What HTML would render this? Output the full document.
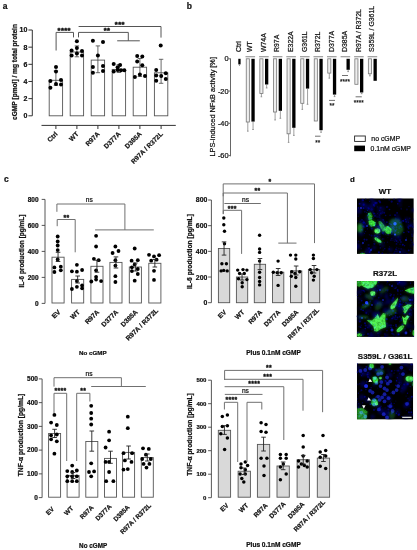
<!DOCTYPE html>
<html><head><meta charset="utf-8"><style>
html,body{margin:0;padding:0;background:#fff;width:417px;height:550px;overflow:hidden}
svg{display:block;filter:blur(0.3px)}
</style></head><body>
<svg width="417" height="550" viewBox="0 0 417 550">
<defs>
<filter id="bl1" x="-10%" y="-10%" width="120%" height="120%"><feGaussianBlur stdDeviation="0.45"/></filter>
<filter id="bl2" x="-20%" y="-20%" width="140%" height="140%"><feGaussianBlur stdDeviation="0.7"/></filter>
<filter id="bl3" x="-20%" y="-20%" width="140%" height="140%"><feGaussianBlur stdDeviation="1.2"/></filter>
<filter id="bl4" x="-20%" y="-20%" width="140%" height="140%"><feGaussianBlur stdDeviation="1.8"/></filter>
<filter id="gtex" x="-10%" y="-10%" width="120%" height="120%">
<feGaussianBlur in="SourceGraphic" stdDeviation="0.7" result="b"/>
<feTurbulence type="fractalNoise" baseFrequency="0.45" numOctaves="2" seed="5" result="n"/>
<feColorMatrix in="n" type="matrix" values="0 0 0 0 0  0 0 0 0 0  0 0 0 0 0  1.3 0 0 0 0.2" result="m"/>
<feComposite in="b" in2="m" operator="in"/>
</filter>
</defs>
<rect width="417" height="550" fill="#fff"/>
<text x="2.70" y="8.60" font-family="Liberation Sans, sans-serif" font-weight="bold" font-size="8.5" text-anchor="start" fill="#111" stroke="#111" stroke-width="0.22" >a</text>
<line x1="32.30" y1="30.00" x2="32.30" y2="115.80" stroke="#333" stroke-width="1"/>
<line x1="28.40" y1="115.80" x2="32.30" y2="115.80" stroke="#333" stroke-width="1"/>
<text x="27.30" y="118.20" font-family="Liberation Sans, sans-serif" font-weight="bold" font-size="7" text-anchor="end" fill="#111" stroke="#111" stroke-width="0.22" >0</text>
<line x1="28.40" y1="98.64" x2="32.30" y2="98.64" stroke="#333" stroke-width="1"/>
<text x="27.30" y="101.04" font-family="Liberation Sans, sans-serif" font-weight="bold" font-size="7" text-anchor="end" fill="#111" stroke="#111" stroke-width="0.22" >2</text>
<line x1="28.40" y1="81.48" x2="32.30" y2="81.48" stroke="#333" stroke-width="1"/>
<text x="27.30" y="83.88" font-family="Liberation Sans, sans-serif" font-weight="bold" font-size="7" text-anchor="end" fill="#111" stroke="#111" stroke-width="0.22" >4</text>
<line x1="28.40" y1="64.32" x2="32.30" y2="64.32" stroke="#333" stroke-width="1"/>
<text x="27.30" y="66.72" font-family="Liberation Sans, sans-serif" font-weight="bold" font-size="7" text-anchor="end" fill="#111" stroke="#111" stroke-width="0.22" >6</text>
<line x1="28.40" y1="47.16" x2="32.30" y2="47.16" stroke="#333" stroke-width="1"/>
<text x="27.30" y="49.56" font-family="Liberation Sans, sans-serif" font-weight="bold" font-size="7" text-anchor="end" fill="#111" stroke="#111" stroke-width="0.22" >8</text>
<line x1="28.40" y1="30.00" x2="32.30" y2="30.00" stroke="#333" stroke-width="1"/>
<text x="27.30" y="32.40" font-family="Liberation Sans, sans-serif" font-weight="bold" font-size="7" text-anchor="end" fill="#111" stroke="#111" stroke-width="0.22" >10</text>
<text transform="translate(17.10,72.00) rotate(-90)" font-family="Liberation Sans, sans-serif" font-weight="bold" font-size="6.6" text-anchor="middle" fill="#111" stroke="#111" stroke-width="0.22" >cGMP [pmol] / mg total protein</text>
<rect x="49.20" y="80.30" width="13.40" height="35.50" fill="#fff" stroke="#555" stroke-width="0.9"/>
<line x1="55.90" y1="71.00" x2="55.90" y2="85.30" stroke="#444" stroke-width="0.8"/>
<line x1="53.70" y1="71.00" x2="58.10" y2="71.00" stroke="#444" stroke-width="0.8"/>
<line x1="53.70" y1="85.30" x2="58.10" y2="85.30" stroke="#444" stroke-width="0.8"/>
<circle cx="56.00" cy="66.90" r="2.0" fill="#000"/>
<circle cx="56.00" cy="71.60" r="2.0" fill="#000"/>
<circle cx="50.40" cy="81.10" r="2.0" fill="#000"/>
<circle cx="61.00" cy="80.00" r="2.0" fill="#000"/>
<circle cx="56.00" cy="84.00" r="2.0" fill="#000"/>
<circle cx="61.00" cy="84.50" r="2.0" fill="#000"/>
<circle cx="50.40" cy="87.80" r="2.0" fill="#000"/>
<rect x="70.20" y="52.00" width="13.40" height="63.80" fill="#fff" stroke="#555" stroke-width="0.9"/>
<line x1="76.90" y1="45.90" x2="76.90" y2="56.80" stroke="#444" stroke-width="0.8"/>
<line x1="74.70" y1="45.90" x2="79.10" y2="45.90" stroke="#444" stroke-width="0.8"/>
<line x1="74.70" y1="56.80" x2="79.10" y2="56.80" stroke="#444" stroke-width="0.8"/>
<circle cx="76.90" cy="41.30" r="2.0" fill="#000"/>
<circle cx="71.60" cy="50.40" r="2.0" fill="#000"/>
<circle cx="76.90" cy="48.10" r="2.0" fill="#000"/>
<circle cx="82.00" cy="50.90" r="2.0" fill="#000"/>
<circle cx="71.60" cy="55.40" r="2.0" fill="#000"/>
<circle cx="76.90" cy="53.40" r="2.0" fill="#000"/>
<circle cx="82.00" cy="55.40" r="2.0" fill="#000"/>
<rect x="91.20" y="60.10" width="13.40" height="55.70" fill="#fff" stroke="#555" stroke-width="0.9"/>
<line x1="97.90" y1="45.90" x2="97.90" y2="72.70" stroke="#444" stroke-width="0.8"/>
<line x1="95.70" y1="45.90" x2="100.10" y2="45.90" stroke="#444" stroke-width="0.8"/>
<line x1="95.70" y1="72.70" x2="100.10" y2="72.70" stroke="#444" stroke-width="0.8"/>
<circle cx="92.90" cy="40.80" r="2.0" fill="#000"/>
<circle cx="103.00" cy="42.00" r="2.0" fill="#000"/>
<circle cx="97.90" cy="55.40" r="2.0" fill="#000"/>
<circle cx="92.90" cy="66.90" r="2.0" fill="#000"/>
<circle cx="103.00" cy="66.00" r="2.0" fill="#000"/>
<circle cx="92.90" cy="72.70" r="2.0" fill="#000"/>
<circle cx="103.00" cy="71.00" r="2.0" fill="#000"/>
<rect x="112.20" y="69.40" width="13.40" height="46.40" fill="#fff" stroke="#555" stroke-width="0.9"/>
<line x1="118.90" y1="64.50" x2="118.90" y2="72.50" stroke="#444" stroke-width="0.8"/>
<line x1="116.70" y1="64.50" x2="121.10" y2="64.50" stroke="#444" stroke-width="0.8"/>
<line x1="116.70" y1="72.50" x2="121.10" y2="72.50" stroke="#444" stroke-width="0.8"/>
<circle cx="113.70" cy="63.90" r="2.0" fill="#000"/>
<circle cx="120.10" cy="64.90" r="2.0" fill="#000"/>
<circle cx="117.60" cy="67.20" r="2.0" fill="#000"/>
<circle cx="113.70" cy="71.60" r="2.0" fill="#000"/>
<circle cx="117.60" cy="69.90" r="2.0" fill="#000"/>
<circle cx="121.00" cy="70.30" r="2.0" fill="#000"/>
<circle cx="124.30" cy="70.30" r="2.0" fill="#000"/>
<rect x="133.20" y="67.20" width="13.40" height="48.60" fill="#fff" stroke="#555" stroke-width="0.9"/>
<line x1="139.90" y1="58.50" x2="139.90" y2="76.50" stroke="#444" stroke-width="0.8"/>
<line x1="137.70" y1="58.50" x2="142.10" y2="58.50" stroke="#444" stroke-width="0.8"/>
<line x1="137.70" y1="76.50" x2="142.10" y2="76.50" stroke="#444" stroke-width="0.8"/>
<circle cx="137.20" cy="56.00" r="2.0" fill="#000"/>
<circle cx="142.30" cy="56.50" r="2.0" fill="#000"/>
<circle cx="137.20" cy="61.50" r="2.0" fill="#000"/>
<circle cx="142.30" cy="65.20" r="2.0" fill="#000"/>
<circle cx="139.90" cy="74.40" r="2.0" fill="#000"/>
<circle cx="134.90" cy="77.00" r="2.0" fill="#000"/>
<circle cx="145.00" cy="76.10" r="2.0" fill="#000"/>
<rect x="154.40" y="72.80" width="13.40" height="43.00" fill="#fff" stroke="#555" stroke-width="0.9"/>
<line x1="161.10" y1="59.30" x2="161.10" y2="83.30" stroke="#444" stroke-width="0.8"/>
<line x1="158.90" y1="59.30" x2="163.30" y2="59.30" stroke="#444" stroke-width="0.8"/>
<line x1="158.90" y1="83.30" x2="163.30" y2="83.30" stroke="#444" stroke-width="0.8"/>
<circle cx="160.70" cy="45.40" r="2.0" fill="#000"/>
<circle cx="156.20" cy="69.90" r="2.0" fill="#000"/>
<circle cx="156.20" cy="75.60" r="2.0" fill="#000"/>
<circle cx="161.20" cy="76.10" r="2.0" fill="#000"/>
<circle cx="165.80" cy="73.30" r="2.0" fill="#000"/>
<circle cx="165.80" cy="79.00" r="2.0" fill="#000"/>
<circle cx="156.20" cy="80.70" r="2.0" fill="#000"/>
<line x1="41.50" y1="125.40" x2="175.80" y2="125.40" stroke="#333" stroke-width="1"/>
<line x1="55.90" y1="125.40" x2="55.90" y2="129.00" stroke="#333" stroke-width="1"/>
<text transform="translate(58.10,134.50) rotate(-45)" font-family="Liberation Sans, sans-serif" font-weight="bold" font-size="6.6" text-anchor="end" fill="#111" stroke="#111" stroke-width="0.22" >Ctrl</text>
<line x1="76.90" y1="125.40" x2="76.90" y2="129.00" stroke="#333" stroke-width="1"/>
<text transform="translate(79.10,134.50) rotate(-45)" font-family="Liberation Sans, sans-serif" font-weight="bold" font-size="6.6" text-anchor="end" fill="#111" stroke="#111" stroke-width="0.22" >WT</text>
<line x1="97.90" y1="125.40" x2="97.90" y2="129.00" stroke="#333" stroke-width="1"/>
<text transform="translate(100.10,134.50) rotate(-45)" font-family="Liberation Sans, sans-serif" font-weight="bold" font-size="6.6" text-anchor="end" fill="#111" stroke="#111" stroke-width="0.22" >R97A</text>
<line x1="118.90" y1="125.40" x2="118.90" y2="129.00" stroke="#333" stroke-width="1"/>
<text transform="translate(121.10,134.50) rotate(-45)" font-family="Liberation Sans, sans-serif" font-weight="bold" font-size="6.6" text-anchor="end" fill="#111" stroke="#111" stroke-width="0.22" >D377A</text>
<line x1="139.90" y1="125.40" x2="139.90" y2="129.00" stroke="#333" stroke-width="1"/>
<text transform="translate(142.10,134.50) rotate(-45)" font-family="Liberation Sans, sans-serif" font-weight="bold" font-size="6.6" text-anchor="end" fill="#111" stroke="#111" stroke-width="0.22" >D385A</text>
<line x1="161.10" y1="125.40" x2="161.10" y2="129.00" stroke="#333" stroke-width="1"/>
<text transform="translate(163.30,134.50) rotate(-45)" font-family="Liberation Sans, sans-serif" font-weight="bold" font-size="6.6" text-anchor="end" fill="#111" stroke="#111" stroke-width="0.22" >R97A / R372L</text>
<polyline points="56.10,50.50 56.10,32.40 73.50,32.40 73.50,37.40" fill="none" stroke="#555" stroke-width="1"/>
<text x="64.20" y="32.60" font-family="Liberation Sans, sans-serif" font-weight="bold" font-size="7.6" text-anchor="middle" fill="#111" stroke="#111" stroke-width="0.45"  letter-spacing="0.35">****</text>
<polyline points="78.60,26.50 161.00,26.50 161.00,37.60" fill="none" stroke="#555" stroke-width="1"/>
<text x="119.80" y="27.00" font-family="Liberation Sans, sans-serif" font-weight="bold" font-size="7.6" text-anchor="middle" fill="#111" stroke="#111" stroke-width="0.45"  letter-spacing="0.35">***</text>
<polyline points="78.50,37.40 78.50,32.40 128.30,32.40 128.30,40.80" fill="none" stroke="#555" stroke-width="1"/>
<line x1="117.20" y1="40.80" x2="139.80" y2="40.80" stroke="#555" stroke-width="1"/>
<text x="107.00" y="33.20" font-family="Liberation Sans, sans-serif" font-weight="bold" font-size="7.6" text-anchor="middle" fill="#111" stroke="#111" stroke-width="0.45"  letter-spacing="0.35">**</text>
<text x="186.80" y="8.80" font-family="Liberation Sans, sans-serif" font-weight="bold" font-size="8.5" text-anchor="start" fill="#111" stroke="#111" stroke-width="0.22" >b</text>
<line x1="230.50" y1="58.50" x2="230.50" y2="156.30" stroke="#666" stroke-width="1.0"/>
<line x1="228.70" y1="58.80" x2="230.50" y2="58.80" stroke="#666" stroke-width="1.0"/>
<text x="228.60" y="61.40" font-family="Liberation Sans, sans-serif" font-size="7.4" text-anchor="end" fill="#111" stroke="#111" stroke-width="0.22" >0</text>
<line x1="228.70" y1="91.06" x2="230.50" y2="91.06" stroke="#666" stroke-width="1.0"/>
<text x="228.60" y="93.66" font-family="Liberation Sans, sans-serif" font-size="7.4" text-anchor="end" fill="#111" stroke="#111" stroke-width="0.22" >-20</text>
<line x1="228.70" y1="123.32" x2="230.50" y2="123.32" stroke="#666" stroke-width="1.0"/>
<text x="228.60" y="125.92" font-family="Liberation Sans, sans-serif" font-size="7.4" text-anchor="end" fill="#111" stroke="#111" stroke-width="0.22" >-40</text>
<line x1="228.70" y1="155.58" x2="230.50" y2="155.58" stroke="#666" stroke-width="1.0"/>
<text x="228.60" y="158.18" font-family="Liberation Sans, sans-serif" font-size="7.4" text-anchor="end" fill="#111" stroke="#111" stroke-width="0.22" >-60</text>
<text transform="translate(215.20,106.80) rotate(-90)" font-family="Liberation Sans, sans-serif" font-size="7.0" text-anchor="middle" fill="#111" stroke="#111" stroke-width="0.22" textLength="99.5" lengthAdjust="spacingAndGlyphs">LPS-induced NF&#954;B activity [%]</text>
<text transform="translate(240.60,52.00) rotate(-90)" font-family="Liberation Sans, sans-serif" font-size="6.9" text-anchor="start" fill="#111" stroke="#111" stroke-width="0.22" >Ctrl</text>
<rect x="238.3" y="58.8" width="2.3" height="5.6" fill="#000"/>
<line x1="239.45" y1="64.40" x2="239.45" y2="66.00" stroke="#666" stroke-width="0.7"/>
<text transform="translate(252.00,52.00) rotate(-90)" font-family="Liberation Sans, sans-serif" font-size="6.9" text-anchor="start" fill="#111" stroke="#111" stroke-width="0.22" >WT</text>
<line x1="245.50" y1="56.70" x2="255.10" y2="56.70" stroke="#999" stroke-width="1.2"/>
<rect x="246.25" y="58.80" width="3.1" height="63.20" fill="#eee" stroke="#777" stroke-width="0.8"/>
<line x1="247.80" y1="122.00" x2="247.80" y2="131.20" stroke="#777" stroke-width="0.7"/>
<line x1="247.00" y1="131.20" x2="248.60" y2="131.20" stroke="#777" stroke-width="0.7"/>
<rect x="251.40" y="58.80" width="3.3" height="62.80" fill="#000"/>
<line x1="253.05" y1="121.60" x2="253.05" y2="129.50" stroke="#777" stroke-width="0.7"/>
<line x1="252.20" y1="129.50" x2="253.90" y2="129.50" stroke="#777" stroke-width="0.7"/>
<text transform="translate(265.60,52.00) rotate(-90)" font-family="Liberation Sans, sans-serif" font-size="6.9" text-anchor="start" fill="#111" stroke="#111" stroke-width="0.22" >W74A</text>
<line x1="259.10" y1="56.70" x2="268.70" y2="56.70" stroke="#999" stroke-width="1.2"/>
<rect x="259.85" y="58.80" width="3.1" height="34.70" fill="#eee" stroke="#777" stroke-width="0.8"/>
<line x1="261.40" y1="93.50" x2="261.40" y2="96.80" stroke="#777" stroke-width="0.7"/>
<line x1="260.60" y1="96.80" x2="262.20" y2="96.80" stroke="#777" stroke-width="0.7"/>
<rect x="265.00" y="58.80" width="3.3" height="25.70" fill="#000"/>
<line x1="266.65" y1="84.50" x2="266.65" y2="88.00" stroke="#777" stroke-width="0.7"/>
<line x1="265.80" y1="88.00" x2="267.50" y2="88.00" stroke="#777" stroke-width="0.7"/>
<text transform="translate(279.30,52.00) rotate(-90)" font-family="Liberation Sans, sans-serif" font-size="6.9" text-anchor="start" fill="#111" stroke="#111" stroke-width="0.22" >R97A</text>
<line x1="272.80" y1="56.70" x2="282.40" y2="56.70" stroke="#999" stroke-width="1.2"/>
<rect x="273.55" y="58.80" width="3.1" height="53.20" fill="#eee" stroke="#777" stroke-width="0.8"/>
<line x1="275.10" y1="112.00" x2="275.10" y2="120.00" stroke="#777" stroke-width="0.7"/>
<line x1="274.30" y1="120.00" x2="275.90" y2="120.00" stroke="#777" stroke-width="0.7"/>
<rect x="278.70" y="58.80" width="3.3" height="52.00" fill="#000"/>
<line x1="280.35" y1="110.80" x2="280.35" y2="118.30" stroke="#777" stroke-width="0.7"/>
<line x1="279.50" y1="118.30" x2="281.20" y2="118.30" stroke="#777" stroke-width="0.7"/>
<text transform="translate(292.80,52.00) rotate(-90)" font-family="Liberation Sans, sans-serif" font-size="6.9" text-anchor="start" fill="#111" stroke="#111" stroke-width="0.22" >E322A</text>
<line x1="286.30" y1="56.70" x2="295.90" y2="56.70" stroke="#999" stroke-width="1.2"/>
<rect x="287.05" y="58.80" width="3.1" height="75.00" fill="#eee" stroke="#777" stroke-width="0.8"/>
<line x1="288.60" y1="133.80" x2="288.60" y2="142.40" stroke="#777" stroke-width="0.7"/>
<line x1="287.80" y1="142.40" x2="289.40" y2="142.40" stroke="#777" stroke-width="0.7"/>
<rect x="292.20" y="58.80" width="3.3" height="69.00" fill="#000"/>
<line x1="293.85" y1="127.80" x2="293.85" y2="135.40" stroke="#777" stroke-width="0.7"/>
<line x1="293.00" y1="135.40" x2="294.70" y2="135.40" stroke="#777" stroke-width="0.7"/>
<text transform="translate(306.50,52.00) rotate(-90)" font-family="Liberation Sans, sans-serif" font-size="6.9" text-anchor="start" fill="#111" stroke="#111" stroke-width="0.22" >G361L</text>
<line x1="300.00" y1="56.70" x2="309.60" y2="56.70" stroke="#999" stroke-width="1.2"/>
<rect x="300.75" y="58.80" width="3.1" height="44.50" fill="#eee" stroke="#777" stroke-width="0.8"/>
<line x1="302.30" y1="103.30" x2="302.30" y2="109.40" stroke="#777" stroke-width="0.7"/>
<line x1="301.50" y1="109.40" x2="303.10" y2="109.40" stroke="#777" stroke-width="0.7"/>
<rect x="305.90" y="58.80" width="3.3" height="29.80" fill="#000"/>
<line x1="307.55" y1="88.60" x2="307.55" y2="104.30" stroke="#777" stroke-width="0.7"/>
<line x1="306.70" y1="104.30" x2="308.40" y2="104.30" stroke="#777" stroke-width="0.7"/>
<text transform="translate(320.00,52.00) rotate(-90)" font-family="Liberation Sans, sans-serif" font-size="6.9" text-anchor="start" fill="#111" stroke="#111" stroke-width="0.22" >R372L</text>
<line x1="313.50" y1="56.70" x2="323.10" y2="56.70" stroke="#999" stroke-width="1.2"/>
<rect x="314.25" y="58.80" width="3.1" height="62.20" fill="#eee" stroke="#777" stroke-width="0.8"/>
<rect x="319.40" y="58.80" width="3.3" height="71.40" fill="#000"/>
<line x1="321.05" y1="130.20" x2="321.05" y2="132.30" stroke="#777" stroke-width="0.7"/>
<line x1="320.20" y1="132.30" x2="321.90" y2="132.30" stroke="#777" stroke-width="0.7"/>
<text transform="translate(333.50,52.00) rotate(-90)" font-family="Liberation Sans, sans-serif" font-size="6.9" text-anchor="start" fill="#111" stroke="#111" stroke-width="0.22" >D377A</text>
<line x1="327.00" y1="56.70" x2="336.60" y2="56.70" stroke="#999" stroke-width="1.2"/>
<rect x="327.75" y="58.80" width="3.1" height="14.30" fill="#eee" stroke="#777" stroke-width="0.8"/>
<line x1="329.30" y1="73.10" x2="329.30" y2="78.20" stroke="#777" stroke-width="0.7"/>
<line x1="328.50" y1="78.20" x2="330.10" y2="78.20" stroke="#777" stroke-width="0.7"/>
<rect x="332.90" y="58.80" width="3.3" height="35.80" fill="#000"/>
<line x1="334.55" y1="94.60" x2="334.55" y2="96.60" stroke="#777" stroke-width="0.7"/>
<line x1="333.70" y1="96.60" x2="335.40" y2="96.60" stroke="#777" stroke-width="0.7"/>
<text transform="translate(347.10,52.00) rotate(-90)" font-family="Liberation Sans, sans-serif" font-size="6.9" text-anchor="start" fill="#111" stroke="#111" stroke-width="0.22" >D385A</text>
<line x1="340.60" y1="56.70" x2="350.20" y2="56.70" stroke="#999" stroke-width="1.2"/>
<rect x="346.50" y="58.80" width="3.3" height="11.00" fill="#000"/>
<line x1="348.15" y1="69.80" x2="348.15" y2="71.60" stroke="#777" stroke-width="0.7"/>
<line x1="347.30" y1="71.60" x2="349.00" y2="71.60" stroke="#777" stroke-width="0.7"/>
<text transform="translate(360.60,52.00) rotate(-90)" font-family="Liberation Sans, sans-serif" font-size="6.9" text-anchor="start" fill="#111" stroke="#111" stroke-width="0.22" >R97A / R372L</text>
<line x1="354.10" y1="56.70" x2="363.70" y2="56.70" stroke="#999" stroke-width="1.2"/>
<rect x="354.85" y="58.80" width="3.1" height="25.50" fill="#eee" stroke="#777" stroke-width="0.8"/>
<rect x="360.00" y="58.80" width="3.3" height="33.70" fill="#000"/>
<line x1="361.65" y1="92.50" x2="361.65" y2="93.70" stroke="#777" stroke-width="0.7"/>
<line x1="360.80" y1="93.70" x2="362.50" y2="93.70" stroke="#777" stroke-width="0.7"/>
<text transform="translate(374.10,52.00) rotate(-90)" font-family="Liberation Sans, sans-serif" font-size="6.9" text-anchor="start" fill="#111" stroke="#111" stroke-width="0.22" >S359L / G361L</text>
<line x1="367.60" y1="56.70" x2="377.20" y2="56.70" stroke="#999" stroke-width="1.2"/>
<rect x="368.35" y="58.80" width="3.1" height="15.00" fill="#eee" stroke="#777" stroke-width="0.8"/>
<line x1="369.90" y1="73.80" x2="369.90" y2="75.90" stroke="#777" stroke-width="0.7"/>
<line x1="369.10" y1="75.90" x2="370.70" y2="75.90" stroke="#777" stroke-width="0.7"/>
<rect x="373.50" y="58.80" width="3.3" height="22.00" fill="#000"/>
<line x1="315.00" y1="136.20" x2="320.50" y2="136.20" stroke="#333" stroke-width="0.7"/>
<text x="317.75" y="145.00" font-family="Liberation Sans, sans-serif" font-size="6.3" text-anchor="middle" fill="#111" stroke="#111" stroke-width="0.2" >**</text>
<line x1="329.00" y1="100.40" x2="335.00" y2="100.40" stroke="#333" stroke-width="0.7"/>
<text x="332.00" y="108.40" font-family="Liberation Sans, sans-serif" font-size="6.3" text-anchor="middle" fill="#111" stroke="#111" stroke-width="0.2" >**</text>
<line x1="342.00" y1="75.50" x2="348.00" y2="75.50" stroke="#333" stroke-width="0.7"/>
<text x="345.00" y="83.60" font-family="Liberation Sans, sans-serif" font-size="6.3" text-anchor="middle" fill="#111" stroke="#111" stroke-width="0.2" >****</text>
<line x1="355.60" y1="96.80" x2="361.80" y2="96.80" stroke="#333" stroke-width="0.7"/>
<text x="358.70" y="105.00" font-family="Liberation Sans, sans-serif" font-size="6.3" text-anchor="middle" fill="#111" stroke="#111" stroke-width="0.2" >****</text>
<rect x="354.6" y="136.0" width="10.7" height="5.4" fill="#fff" stroke="#222" stroke-width="0.9"/>
<rect x="354.2" y="145.6" width="10.8" height="5.6" fill="#000"/>
<text x="371.30" y="141.30" font-family="Liberation Sans, sans-serif" font-size="6.9" text-anchor="start" fill="#111" stroke="#111" stroke-width="0.22" >no cGMP</text>
<text x="370.60" y="151.00" font-family="Liberation Sans, sans-serif" font-size="6.9" text-anchor="start" fill="#111" stroke="#111" stroke-width="0.22" >0.1nM cGMP</text>
<text x="4.00" y="181.80" font-family="Liberation Sans, sans-serif" font-weight="bold" font-size="8.5" text-anchor="start" fill="#111" stroke="#111" stroke-width="0.22" >c</text>
<line x1="45.00" y1="199.40" x2="45.00" y2="303.40" stroke="#444" stroke-width="0.9"/>
<line x1="41.70" y1="303.40" x2="45.00" y2="303.40" stroke="#444" stroke-width="0.9"/>
<text x="38.60" y="305.74" font-family="Liberation Sans, sans-serif" font-weight="bold" font-size="6.5" text-anchor="end" fill="#111" stroke="#111" stroke-width="0.22" >0</text>
<line x1="41.70" y1="277.40" x2="45.00" y2="277.40" stroke="#444" stroke-width="0.9"/>
<text x="38.60" y="279.74" font-family="Liberation Sans, sans-serif" font-weight="bold" font-size="6.5" text-anchor="end" fill="#111" stroke="#111" stroke-width="0.22" >200</text>
<line x1="41.70" y1="251.40" x2="45.00" y2="251.40" stroke="#444" stroke-width="0.9"/>
<text x="38.60" y="253.74" font-family="Liberation Sans, sans-serif" font-weight="bold" font-size="6.5" text-anchor="end" fill="#111" stroke="#111" stroke-width="0.22" >400</text>
<line x1="41.70" y1="225.40" x2="45.00" y2="225.40" stroke="#444" stroke-width="0.9"/>
<text x="38.60" y="227.74" font-family="Liberation Sans, sans-serif" font-weight="bold" font-size="6.5" text-anchor="end" fill="#111" stroke="#111" stroke-width="0.22" >600</text>
<line x1="41.70" y1="199.40" x2="45.00" y2="199.40" stroke="#444" stroke-width="0.9"/>
<text x="38.60" y="201.74" font-family="Liberation Sans, sans-serif" font-weight="bold" font-size="6.5" text-anchor="end" fill="#111" stroke="#111" stroke-width="0.22" >800</text>
<text transform="translate(24.10,251.00) rotate(-90)" font-family="Liberation Sans, sans-serif" font-weight="bold" font-size="6.5" text-anchor="middle" fill="#111" stroke="#111" stroke-width="0.22" >IL-6 production [pg/mL]</text>
<rect x="52.00" y="257.20" width="12.10" height="45.80" fill="#fff" stroke="#555" stroke-width="0.9"/>
<circle cx="57.70" cy="236.50" r="1.9" fill="#000"/>
<circle cx="57.70" cy="241.50" r="1.9" fill="#000"/>
<circle cx="57.70" cy="245.50" r="1.9" fill="#000"/>
<circle cx="57.70" cy="250.10" r="1.9" fill="#000"/>
<circle cx="57.70" cy="259.50" r="1.9" fill="#000"/>
<circle cx="54.40" cy="267.40" r="1.9" fill="#000"/>
<circle cx="60.80" cy="266.70" r="1.9" fill="#000"/>
<circle cx="60.80" cy="270.30" r="1.9" fill="#000"/>
<circle cx="54.40" cy="272.00" r="1.9" fill="#000"/>
<line x1="58.05" y1="252.30" x2="58.05" y2="261.50" stroke="#222" stroke-width="0.9"/>
<line x1="55.75" y1="252.30" x2="60.35" y2="252.30" stroke="#222" stroke-width="0.9"/>
<line x1="55.75" y1="261.50" x2="60.35" y2="261.50" stroke="#222" stroke-width="0.9"/>
<text transform="translate(60.85,312.50) rotate(-45)" font-family="Liberation Sans, sans-serif" font-weight="bold" font-size="6.7" text-anchor="end" fill="#111" stroke="#111" stroke-width="0.22" >EV</text>
<rect x="71.60" y="279.40" width="12.10" height="23.60" fill="#fff" stroke="#555" stroke-width="0.9"/>
<circle cx="76.90" cy="264.80" r="1.9" fill="#000"/>
<circle cx="71.90" cy="271.30" r="1.9" fill="#000"/>
<circle cx="76.90" cy="271.70" r="1.9" fill="#000"/>
<circle cx="82.10" cy="270.00" r="1.9" fill="#000"/>
<circle cx="76.90" cy="281.10" r="1.9" fill="#000"/>
<circle cx="76.90" cy="286.80" r="1.9" fill="#000"/>
<circle cx="82.10" cy="285.40" r="1.9" fill="#000"/>
<circle cx="82.10" cy="288.30" r="1.9" fill="#000"/>
<circle cx="71.90" cy="289.00" r="1.9" fill="#000"/>
<line x1="77.65" y1="276.00" x2="77.65" y2="283.00" stroke="#222" stroke-width="0.9"/>
<line x1="75.35" y1="276.00" x2="79.95" y2="276.00" stroke="#222" stroke-width="0.9"/>
<line x1="75.35" y1="283.00" x2="79.95" y2="283.00" stroke="#222" stroke-width="0.9"/>
<text transform="translate(80.45,312.50) rotate(-45)" font-family="Liberation Sans, sans-serif" font-weight="bold" font-size="6.7" text-anchor="end" fill="#111" stroke="#111" stroke-width="0.22" >WT</text>
<rect x="90.90" y="266.30" width="12.10" height="36.70" fill="#fff" stroke="#555" stroke-width="0.9"/>
<circle cx="96.10" cy="235.80" r="1.9" fill="#000"/>
<circle cx="96.10" cy="246.50" r="1.9" fill="#000"/>
<circle cx="93.90" cy="258.80" r="1.9" fill="#000"/>
<circle cx="98.70" cy="260.20" r="1.9" fill="#000"/>
<circle cx="96.10" cy="270.30" r="1.9" fill="#000"/>
<circle cx="96.10" cy="276.80" r="1.9" fill="#000"/>
<circle cx="91.30" cy="281.50" r="1.9" fill="#000"/>
<circle cx="96.10" cy="279.60" r="1.9" fill="#000"/>
<circle cx="101.10" cy="281.10" r="1.9" fill="#000"/>
<line x1="96.95" y1="260.20" x2="96.95" y2="272.20" stroke="#222" stroke-width="0.9"/>
<line x1="94.65" y1="260.20" x2="99.25" y2="260.20" stroke="#222" stroke-width="0.9"/>
<line x1="94.65" y1="272.20" x2="99.25" y2="272.20" stroke="#222" stroke-width="0.9"/>
<text transform="translate(99.75,312.50) rotate(-45)" font-family="Liberation Sans, sans-serif" font-weight="bold" font-size="6.7" text-anchor="end" fill="#111" stroke="#111" stroke-width="0.22" >R97A</text>
<rect x="109.90" y="262.40" width="12.10" height="40.60" fill="#fff" stroke="#555" stroke-width="0.9"/>
<circle cx="115.40" cy="246.50" r="1.9" fill="#000"/>
<circle cx="112.60" cy="253.00" r="1.9" fill="#000"/>
<circle cx="118.50" cy="251.00" r="1.9" fill="#000"/>
<circle cx="115.40" cy="260.20" r="1.9" fill="#000"/>
<circle cx="115.40" cy="265.60" r="1.9" fill="#000"/>
<circle cx="115.40" cy="276.20" r="1.9" fill="#000"/>
<circle cx="115.40" cy="282.00" r="1.9" fill="#000"/>
<line x1="115.95" y1="256.90" x2="115.95" y2="268.00" stroke="#222" stroke-width="0.9"/>
<line x1="113.65" y1="256.90" x2="118.25" y2="256.90" stroke="#222" stroke-width="0.9"/>
<line x1="113.65" y1="268.00" x2="118.25" y2="268.00" stroke="#222" stroke-width="0.9"/>
<text transform="translate(118.75,312.50) rotate(-45)" font-family="Liberation Sans, sans-serif" font-weight="bold" font-size="6.7" text-anchor="end" fill="#111" stroke="#111" stroke-width="0.22" >D377A</text>
<rect x="129.30" y="267.00" width="12.10" height="36.00" fill="#fff" stroke="#555" stroke-width="0.9"/>
<circle cx="134.70" cy="248.50" r="1.9" fill="#000"/>
<circle cx="131.60" cy="260.70" r="1.9" fill="#000"/>
<circle cx="137.80" cy="260.20" r="1.9" fill="#000"/>
<circle cx="134.70" cy="264.40" r="1.9" fill="#000"/>
<circle cx="131.90" cy="271.10" r="1.9" fill="#000"/>
<circle cx="137.80" cy="274.00" r="1.9" fill="#000"/>
<circle cx="134.70" cy="280.70" r="1.9" fill="#000"/>
<circle cx="137.80" cy="269.00" r="1.9" fill="#000"/>
<circle cx="131.90" cy="267.30" r="1.9" fill="#000"/>
<line x1="135.35" y1="263.00" x2="135.35" y2="271.00" stroke="#222" stroke-width="0.9"/>
<line x1="133.05" y1="263.00" x2="137.65" y2="263.00" stroke="#222" stroke-width="0.9"/>
<line x1="133.05" y1="271.00" x2="137.65" y2="271.00" stroke="#222" stroke-width="0.9"/>
<text transform="translate(138.15,312.50) rotate(-45)" font-family="Liberation Sans, sans-serif" font-weight="bold" font-size="6.7" text-anchor="end" fill="#111" stroke="#111" stroke-width="0.22" >D385A</text>
<rect x="148.80" y="263.30" width="12.10" height="39.70" fill="#fff" stroke="#555" stroke-width="0.9"/>
<circle cx="149.00" cy="254.80" r="1.9" fill="#000"/>
<circle cx="154.00" cy="256.40" r="1.9" fill="#000"/>
<circle cx="159.10" cy="255.20" r="1.9" fill="#000"/>
<circle cx="151.20" cy="260.70" r="1.9" fill="#000"/>
<circle cx="156.60" cy="259.70" r="1.9" fill="#000"/>
<circle cx="154.00" cy="270.80" r="1.9" fill="#000"/>
<circle cx="154.00" cy="279.90" r="1.9" fill="#000"/>
<line x1="154.85" y1="259.50" x2="154.85" y2="267.00" stroke="#222" stroke-width="0.9"/>
<line x1="152.55" y1="259.50" x2="157.15" y2="259.50" stroke="#222" stroke-width="0.9"/>
<line x1="152.55" y1="267.00" x2="157.15" y2="267.00" stroke="#222" stroke-width="0.9"/>
<text transform="translate(158.65,311.00) rotate(-45)" font-family="Liberation Sans, sans-serif" font-weight="bold" font-size="6.7" text-anchor="end" fill="#111" stroke="#111" stroke-width="0.22" >R97A / R372L</text>
<polyline points="56.90,211.80 56.90,204.00 124.90,204.00 124.90,229.90" fill="none" stroke="#707070" stroke-width="1"/>
<line x1="95.10" y1="229.90" x2="153.80" y2="229.90" stroke="#707070" stroke-width="1"/>
<text x="89.30" y="201.90" font-family="Liberation Sans, sans-serif" font-size="6.6" text-anchor="middle" fill="#111" stroke="#111" stroke-width="0.22" >ns</text>
<polyline points="57.20,226.20 57.20,219.50 75.20,219.50 75.20,252.30" fill="none" stroke="#707070" stroke-width="1"/>
<text x="66.40" y="219.80" font-family="Liberation Sans, sans-serif" font-weight="bold" font-size="6.8" text-anchor="middle" fill="#111" stroke="#111" stroke-width="0.35"  letter-spacing="0.35">**</text>
<text x="92.80" y="355.10" font-family="Liberation Sans, sans-serif" font-weight="bold" font-size="6.2" text-anchor="middle" fill="#111" stroke="#111" stroke-width="0.22" >No cGMP</text>
<line x1="42.10" y1="378.90" x2="42.10" y2="497.60" stroke="#444" stroke-width="0.9"/>
<line x1="38.80" y1="497.60" x2="42.10" y2="497.60" stroke="#444" stroke-width="0.9"/>
<text x="37.90" y="499.94" font-family="Liberation Sans, sans-serif" font-weight="bold" font-size="6.5" text-anchor="end" fill="#111" stroke="#111" stroke-width="0.22" >0</text>
<line x1="38.80" y1="473.86" x2="42.10" y2="473.86" stroke="#444" stroke-width="0.9"/>
<text x="37.90" y="476.20" font-family="Liberation Sans, sans-serif" font-weight="bold" font-size="6.5" text-anchor="end" fill="#111" stroke="#111" stroke-width="0.22" >100</text>
<line x1="38.80" y1="450.12" x2="42.10" y2="450.12" stroke="#444" stroke-width="0.9"/>
<text x="37.90" y="452.46" font-family="Liberation Sans, sans-serif" font-weight="bold" font-size="6.5" text-anchor="end" fill="#111" stroke="#111" stroke-width="0.22" >200</text>
<line x1="38.80" y1="426.38" x2="42.10" y2="426.38" stroke="#444" stroke-width="0.9"/>
<text x="37.90" y="428.72" font-family="Liberation Sans, sans-serif" font-weight="bold" font-size="6.5" text-anchor="end" fill="#111" stroke="#111" stroke-width="0.22" >300</text>
<line x1="38.80" y1="402.64" x2="42.10" y2="402.64" stroke="#444" stroke-width="0.9"/>
<text x="37.90" y="404.98" font-family="Liberation Sans, sans-serif" font-weight="bold" font-size="6.5" text-anchor="end" fill="#111" stroke="#111" stroke-width="0.22" >400</text>
<line x1="38.80" y1="378.90" x2="42.10" y2="378.90" stroke="#444" stroke-width="0.9"/>
<text x="37.90" y="381.24" font-family="Liberation Sans, sans-serif" font-weight="bold" font-size="6.5" text-anchor="end" fill="#111" stroke="#111" stroke-width="0.22" >500</text>
<text transform="translate(23.30,435.00) rotate(-90)" font-family="Liberation Sans, sans-serif" font-weight="bold" font-size="6.7" text-anchor="middle" fill="#111" stroke="#111" stroke-width="0.22" >TNF-&#945; production [pg/mL]</text>
<rect x="48.60" y="433.50" width="12.00" height="63.70" fill="#fff" stroke="#555" stroke-width="0.9"/>
<circle cx="54.40" cy="414.90" r="1.9" fill="#000"/>
<circle cx="51.10" cy="422.60" r="1.9" fill="#000"/>
<circle cx="56.80" cy="425.00" r="1.9" fill="#000"/>
<circle cx="51.10" cy="435.30" r="1.9" fill="#000"/>
<circle cx="56.80" cy="434.50" r="1.9" fill="#000"/>
<circle cx="51.10" cy="439.30" r="1.9" fill="#000"/>
<circle cx="56.80" cy="441.30" r="1.9" fill="#000"/>
<circle cx="54.40" cy="453.70" r="1.9" fill="#000"/>
<line x1="54.60" y1="429.30" x2="54.60" y2="437.50" stroke="#222" stroke-width="0.9"/>
<line x1="52.30" y1="429.30" x2="56.90" y2="429.30" stroke="#222" stroke-width="0.9"/>
<line x1="52.30" y1="437.50" x2="56.90" y2="437.50" stroke="#222" stroke-width="0.9"/>
<text transform="translate(54.50,509.40) rotate(-45)" font-family="Liberation Sans, sans-serif" font-weight="bold" font-size="6.4" text-anchor="end" fill="#111" stroke="#111" stroke-width="0.22" >EV</text>
<rect x="67.10" y="475.40" width="12.00" height="21.80" fill="#fff" stroke="#555" stroke-width="0.9"/>
<circle cx="72.20" cy="465.60" r="1.9" fill="#000"/>
<circle cx="67.30" cy="471.10" r="1.9" fill="#000"/>
<circle cx="72.20" cy="472.00" r="1.9" fill="#000"/>
<circle cx="76.80" cy="470.50" r="1.9" fill="#000"/>
<circle cx="67.30" cy="476.30" r="1.9" fill="#000"/>
<circle cx="72.20" cy="476.30" r="1.9" fill="#000"/>
<circle cx="76.80" cy="476.30" r="1.9" fill="#000"/>
<circle cx="67.30" cy="481.20" r="1.9" fill="#000"/>
<circle cx="72.20" cy="481.20" r="1.9" fill="#000"/>
<circle cx="76.80" cy="481.20" r="1.9" fill="#000"/>
<line x1="73.10" y1="472.50" x2="73.10" y2="478.50" stroke="#222" stroke-width="0.9"/>
<line x1="70.80" y1="472.50" x2="75.40" y2="472.50" stroke="#222" stroke-width="0.9"/>
<line x1="70.80" y1="478.50" x2="75.40" y2="478.50" stroke="#222" stroke-width="0.9"/>
<text transform="translate(73.80,508.80) rotate(-45)" font-family="Liberation Sans, sans-serif" font-weight="bold" font-size="6.4" text-anchor="end" fill="#111" stroke="#111" stroke-width="0.22" >WT</text>
<rect x="85.80" y="441.50" width="12.00" height="55.70" fill="#fff" stroke="#555" stroke-width="0.9"/>
<circle cx="91.20" cy="405.80" r="1.9" fill="#000"/>
<circle cx="91.20" cy="413.00" r="1.9" fill="#000"/>
<circle cx="91.20" cy="418.70" r="1.9" fill="#000"/>
<circle cx="91.20" cy="424.50" r="1.9" fill="#000"/>
<circle cx="89.00" cy="472.00" r="1.9" fill="#000"/>
<circle cx="94.10" cy="471.40" r="1.9" fill="#000"/>
<circle cx="91.20" cy="476.30" r="1.9" fill="#000"/>
<circle cx="91.20" cy="463.30" r="1.9" fill="#000"/>
<line x1="91.80" y1="431.00" x2="91.80" y2="451.20" stroke="#222" stroke-width="0.9"/>
<line x1="89.50" y1="431.00" x2="94.10" y2="431.00" stroke="#222" stroke-width="0.9"/>
<line x1="89.50" y1="451.20" x2="94.10" y2="451.20" stroke="#222" stroke-width="0.9"/>
<text transform="translate(94.00,508.00) rotate(-45)" font-family="Liberation Sans, sans-serif" font-weight="bold" font-size="6.4" text-anchor="end" fill="#111" stroke="#111" stroke-width="0.22" >R97A</text>
<rect x="104.50" y="458.40" width="12.00" height="38.80" fill="#fff" stroke="#555" stroke-width="0.9"/>
<circle cx="109.10" cy="431.70" r="1.9" fill="#000"/>
<circle cx="109.10" cy="440.30" r="1.9" fill="#000"/>
<circle cx="105.60" cy="447.50" r="1.9" fill="#000"/>
<circle cx="109.10" cy="461.90" r="1.9" fill="#000"/>
<circle cx="105.60" cy="461.90" r="1.9" fill="#000"/>
<circle cx="109.10" cy="472.00" r="1.9" fill="#000"/>
<circle cx="106.20" cy="481.20" r="1.9" fill="#000"/>
<circle cx="113.40" cy="481.20" r="1.9" fill="#000"/>
<line x1="110.50" y1="451.20" x2="110.50" y2="463.30" stroke="#222" stroke-width="0.9"/>
<line x1="108.20" y1="451.20" x2="112.80" y2="451.20" stroke="#222" stroke-width="0.9"/>
<line x1="108.20" y1="463.30" x2="112.80" y2="463.30" stroke="#222" stroke-width="0.9"/>
<text transform="translate(112.00,506.90) rotate(-45)" font-family="Liberation Sans, sans-serif" font-weight="bold" font-size="6.4" text-anchor="end" fill="#111" stroke="#111" stroke-width="0.22" >D377A</text>
<rect x="122.60" y="452.40" width="12.00" height="44.80" fill="#fff" stroke="#555" stroke-width="0.9"/>
<circle cx="127.80" cy="416.70" r="1.9" fill="#000"/>
<circle cx="127.80" cy="428.20" r="1.9" fill="#000"/>
<circle cx="123.50" cy="453.20" r="1.9" fill="#000"/>
<circle cx="132.10" cy="453.20" r="1.9" fill="#000"/>
<circle cx="124.90" cy="460.40" r="1.9" fill="#000"/>
<circle cx="131.50" cy="461.90" r="1.9" fill="#000"/>
<circle cx="127.80" cy="469.10" r="1.9" fill="#000"/>
<circle cx="123.50" cy="469.60" r="1.9" fill="#000"/>
<line x1="128.60" y1="446.00" x2="128.60" y2="459.00" stroke="#222" stroke-width="0.9"/>
<line x1="126.30" y1="446.00" x2="130.90" y2="446.00" stroke="#222" stroke-width="0.9"/>
<line x1="126.30" y1="459.00" x2="130.90" y2="459.00" stroke="#222" stroke-width="0.9"/>
<text transform="translate(130.10,507.70) rotate(-45)" font-family="Liberation Sans, sans-serif" font-weight="bold" font-size="6.4" text-anchor="end" fill="#111" stroke="#111" stroke-width="0.22" >D385A</text>
<rect x="141.30" y="457.60" width="12.00" height="39.60" fill="#fff" stroke="#555" stroke-width="0.9"/>
<circle cx="143.00" cy="448.30" r="1.9" fill="#000"/>
<circle cx="148.80" cy="448.90" r="1.9" fill="#000"/>
<circle cx="145.90" cy="454.70" r="1.9" fill="#000"/>
<circle cx="142.20" cy="459.00" r="1.9" fill="#000"/>
<circle cx="150.80" cy="459.00" r="1.9" fill="#000"/>
<circle cx="143.60" cy="463.90" r="1.9" fill="#000"/>
<circle cx="149.40" cy="463.90" r="1.9" fill="#000"/>
<circle cx="146.50" cy="467.60" r="1.9" fill="#000"/>
<line x1="147.30" y1="454.00" x2="147.30" y2="461.00" stroke="#222" stroke-width="0.9"/>
<line x1="145.00" y1="454.00" x2="149.60" y2="454.00" stroke="#222" stroke-width="0.9"/>
<line x1="145.00" y1="461.00" x2="149.60" y2="461.00" stroke="#222" stroke-width="0.9"/>
<text transform="translate(151.50,505.90) rotate(-45)" font-family="Liberation Sans, sans-serif" font-weight="bold" font-size="6.4" text-anchor="end" fill="#111" stroke="#111" stroke-width="0.22" >R97A / R372L</text>
<polyline points="54.00,386.60 54.00,377.70 121.40,377.70 121.40,386.50" fill="none" stroke="#707070" stroke-width="1"/>
<line x1="91.20" y1="386.50" x2="145.80" y2="386.50" stroke="#707070" stroke-width="1"/>
<text x="89.00" y="376.00" font-family="Liberation Sans, sans-serif" font-size="6.6" text-anchor="middle" fill="#111" stroke="#111" stroke-width="0.22" >ns</text>
<polyline points="54.00,413.00 54.00,393.30 66.70,393.30 66.70,461.00" fill="none" stroke="#707070" stroke-width="1"/>
<text x="60.40" y="393.40" font-family="Liberation Sans, sans-serif" font-weight="bold" font-size="6.8" text-anchor="middle" fill="#111" stroke="#111" stroke-width="0.35"  letter-spacing="0.35">****</text>
<polyline points="76.70,461.00 76.70,393.30 89.90,393.30 89.90,401.50" fill="none" stroke="#707070" stroke-width="1"/>
<text x="83.20" y="393.40" font-family="Liberation Sans, sans-serif" font-weight="bold" font-size="6.8" text-anchor="middle" fill="#111" stroke="#111" stroke-width="0.35"  letter-spacing="0.35">**</text>
<text x="93.10" y="547.60" font-family="Liberation Sans, sans-serif" font-weight="bold" font-size="6.3" text-anchor="middle" fill="#111" stroke="#111" stroke-width="0.22" >No cGMP</text>
<line x1="211.40" y1="200.00" x2="211.40" y2="302.70" stroke="#444" stroke-width="0.9"/>
<line x1="208.10" y1="302.70" x2="211.40" y2="302.70" stroke="#444" stroke-width="0.9"/>
<text x="207.30" y="305.18" font-family="Liberation Sans, sans-serif" font-weight="bold" font-size="6.9" text-anchor="end" fill="#111" stroke="#111" stroke-width="0.22" >0</text>
<line x1="208.10" y1="277.02" x2="211.40" y2="277.02" stroke="#444" stroke-width="0.9"/>
<text x="207.30" y="279.51" font-family="Liberation Sans, sans-serif" font-weight="bold" font-size="6.9" text-anchor="end" fill="#111" stroke="#111" stroke-width="0.22" >200</text>
<line x1="208.10" y1="251.35" x2="211.40" y2="251.35" stroke="#444" stroke-width="0.9"/>
<text x="207.30" y="253.83" font-family="Liberation Sans, sans-serif" font-weight="bold" font-size="6.9" text-anchor="end" fill="#111" stroke="#111" stroke-width="0.22" >400</text>
<line x1="208.10" y1="225.68" x2="211.40" y2="225.68" stroke="#444" stroke-width="0.9"/>
<text x="207.30" y="228.16" font-family="Liberation Sans, sans-serif" font-weight="bold" font-size="6.9" text-anchor="end" fill="#111" stroke="#111" stroke-width="0.22" >600</text>
<line x1="208.10" y1="200.00" x2="211.40" y2="200.00" stroke="#444" stroke-width="0.9"/>
<text x="207.30" y="202.48" font-family="Liberation Sans, sans-serif" font-weight="bold" font-size="6.9" text-anchor="end" fill="#111" stroke="#111" stroke-width="0.22" >800</text>
<text transform="translate(192.10,251.60) rotate(-90)" font-family="Liberation Sans, sans-serif" font-weight="bold" font-size="6.7" text-anchor="middle" fill="#111" stroke="#111" stroke-width="0.22" >IL-6 production [pg/mL]</text>
<rect x="218.40" y="248.50" width="11.30" height="54.20" fill="#d9d9d9" stroke="#555" stroke-width="0.9"/>
<circle cx="224.50" cy="231.30" r="1.7" fill="#000"/>
<circle cx="224.50" cy="243.70" r="1.7" fill="#000"/>
<circle cx="221.90" cy="263.80" r="1.7" fill="#000"/>
<circle cx="226.40" cy="263.80" r="1.7" fill="#000"/>
<circle cx="221.10" cy="270.90" r="1.7" fill="#000"/>
<circle cx="227.20" cy="270.90" r="1.7" fill="#000"/>
<circle cx="223.70" cy="270.40" r="1.7" fill="#000"/>
<circle cx="223.80" cy="218.00" r="1.7" fill="#000"/>
<circle cx="223.80" cy="224.70" r="1.7" fill="#000"/>
<line x1="224.05" y1="241.90" x2="224.05" y2="255.10" stroke="#222" stroke-width="0.9"/>
<line x1="221.75" y1="241.90" x2="226.35" y2="241.90" stroke="#222" stroke-width="0.9"/>
<line x1="221.75" y1="255.10" x2="226.35" y2="255.10" stroke="#222" stroke-width="0.9"/>
<text transform="translate(226.75,312.70) rotate(-45)" font-family="Liberation Sans, sans-serif" font-weight="bold" font-size="6.5" text-anchor="end" fill="#111" stroke="#111" stroke-width="0.22" >EV</text>
<rect x="236.40" y="277.00" width="11.30" height="25.70" fill="#d9d9d9" stroke="#555" stroke-width="0.9"/>
<circle cx="237.70" cy="270.10" r="1.7" fill="#000"/>
<circle cx="243.00" cy="269.60" r="1.7" fill="#000"/>
<circle cx="246.90" cy="270.10" r="1.7" fill="#000"/>
<circle cx="239.60" cy="273.50" r="1.7" fill="#000"/>
<circle cx="244.30" cy="273.50" r="1.7" fill="#000"/>
<circle cx="238.50" cy="278.80" r="1.7" fill="#000"/>
<circle cx="242.20" cy="282.80" r="1.7" fill="#000"/>
<circle cx="242.20" cy="286.70" r="1.7" fill="#000"/>
<circle cx="246.90" cy="279.60" r="1.7" fill="#000"/>
<line x1="242.05" y1="274.00" x2="242.05" y2="280.00" stroke="#222" stroke-width="0.9"/>
<line x1="239.75" y1="274.00" x2="244.35" y2="274.00" stroke="#222" stroke-width="0.9"/>
<line x1="239.75" y1="280.00" x2="244.35" y2="280.00" stroke="#222" stroke-width="0.9"/>
<text transform="translate(244.75,312.70) rotate(-45)" font-family="Liberation Sans, sans-serif" font-weight="bold" font-size="6.5" text-anchor="end" fill="#111" stroke="#111" stroke-width="0.22" >WT</text>
<rect x="254.30" y="264.30" width="11.30" height="38.40" fill="#d9d9d9" stroke="#555" stroke-width="0.9"/>
<circle cx="259.60" cy="235.30" r="1.7" fill="#000"/>
<circle cx="259.60" cy="249.00" r="1.7" fill="#000"/>
<circle cx="259.60" cy="252.40" r="1.7" fill="#000"/>
<circle cx="259.60" cy="261.10" r="1.7" fill="#000"/>
<circle cx="259.60" cy="272.20" r="1.7" fill="#000"/>
<circle cx="259.60" cy="277.50" r="1.7" fill="#000"/>
<circle cx="259.60" cy="281.50" r="1.7" fill="#000"/>
<circle cx="259.60" cy="284.90" r="1.7" fill="#000"/>
<line x1="259.95" y1="258.50" x2="259.95" y2="269.60" stroke="#222" stroke-width="0.9"/>
<line x1="257.65" y1="258.50" x2="262.25" y2="258.50" stroke="#222" stroke-width="0.9"/>
<line x1="257.65" y1="269.60" x2="262.25" y2="269.60" stroke="#222" stroke-width="0.9"/>
<text transform="translate(262.65,312.70) rotate(-45)" font-family="Liberation Sans, sans-serif" font-weight="bold" font-size="6.5" text-anchor="end" fill="#111" stroke="#111" stroke-width="0.22" >R97A</text>
<rect x="272.50" y="272.20" width="11.30" height="30.50" fill="#d9d9d9" stroke="#555" stroke-width="0.9"/>
<circle cx="278.10" cy="261.10" r="1.7" fill="#000"/>
<circle cx="273.30" cy="272.20" r="1.7" fill="#000"/>
<circle cx="277.30" cy="272.70" r="1.7" fill="#000"/>
<circle cx="281.20" cy="272.70" r="1.7" fill="#000"/>
<circle cx="278.10" cy="285.40" r="1.7" fill="#000"/>
<line x1="278.15" y1="268.50" x2="278.15" y2="275.50" stroke="#222" stroke-width="0.9"/>
<line x1="275.85" y1="268.50" x2="280.45" y2="268.50" stroke="#222" stroke-width="0.9"/>
<line x1="275.85" y1="275.50" x2="280.45" y2="275.50" stroke="#222" stroke-width="0.9"/>
<text transform="translate(280.85,312.70) rotate(-45)" font-family="Liberation Sans, sans-serif" font-weight="bold" font-size="6.5" text-anchor="end" fill="#111" stroke="#111" stroke-width="0.22" >D377A</text>
<rect x="290.50" y="270.90" width="11.30" height="31.80" fill="#d9d9d9" stroke="#555" stroke-width="0.9"/>
<circle cx="290.50" cy="255.10" r="1.7" fill="#000"/>
<circle cx="295.80" cy="255.10" r="1.7" fill="#000"/>
<circle cx="295.80" cy="259.00" r="1.7" fill="#000"/>
<circle cx="291.80" cy="271.70" r="1.7" fill="#000"/>
<circle cx="299.70" cy="271.70" r="1.7" fill="#000"/>
<circle cx="295.00" cy="273.50" r="1.7" fill="#000"/>
<circle cx="295.80" cy="277.50" r="1.7" fill="#000"/>
<circle cx="295.80" cy="286.20" r="1.7" fill="#000"/>
<circle cx="291.30" cy="276.20" r="1.7" fill="#000"/>
<line x1="296.15" y1="266.00" x2="296.15" y2="275.00" stroke="#222" stroke-width="0.9"/>
<line x1="293.85" y1="266.00" x2="298.45" y2="266.00" stroke="#222" stroke-width="0.9"/>
<line x1="293.85" y1="275.00" x2="298.45" y2="275.00" stroke="#222" stroke-width="0.9"/>
<text transform="translate(298.85,312.70) rotate(-45)" font-family="Liberation Sans, sans-serif" font-weight="bold" font-size="6.5" text-anchor="end" fill="#111" stroke="#111" stroke-width="0.22" >D385A</text>
<rect x="308.40" y="269.60" width="11.30" height="33.10" fill="#d9d9d9" stroke="#555" stroke-width="0.9"/>
<circle cx="313.40" cy="255.10" r="1.7" fill="#000"/>
<circle cx="313.40" cy="258.50" r="1.7" fill="#000"/>
<circle cx="310.30" cy="269.60" r="1.7" fill="#000"/>
<circle cx="316.90" cy="269.60" r="1.7" fill="#000"/>
<circle cx="311.60" cy="272.70" r="1.7" fill="#000"/>
<circle cx="314.20" cy="276.20" r="1.7" fill="#000"/>
<circle cx="313.40" cy="280.10" r="1.7" fill="#000"/>
<line x1="314.05" y1="265.50" x2="314.05" y2="273.00" stroke="#222" stroke-width="0.9"/>
<line x1="311.75" y1="265.50" x2="316.35" y2="265.50" stroke="#222" stroke-width="0.9"/>
<line x1="311.75" y1="273.00" x2="316.35" y2="273.00" stroke="#222" stroke-width="0.9"/>
<text transform="translate(319.55,310.70) rotate(-45)" font-family="Liberation Sans, sans-serif" font-weight="bold" font-size="6.5" text-anchor="end" fill="#111" stroke="#111" stroke-width="0.22" >R97A / R372L</text>
<polyline points="223.20,214.20 223.20,183.90 314.50,183.90 314.50,243.10" fill="none" stroke="#707070" stroke-width="1"/>
<text x="269.80" y="184.30" font-family="Liberation Sans, sans-serif" font-weight="bold" font-size="6.8" text-anchor="middle" fill="#111" stroke="#111" stroke-width="0.35" >*</text>
<polyline points="223.20,196.30 223.20,193.00 287.40,193.00 287.40,243.10" fill="none" stroke="#707070" stroke-width="1"/>
<line x1="278.30" y1="243.10" x2="296.50" y2="243.10" stroke="#707070" stroke-width="1"/>
<text x="257.50" y="192.80" font-family="Liberation Sans, sans-serif" font-weight="bold" font-size="6.8" text-anchor="middle" fill="#111" stroke="#111" stroke-width="0.35"  letter-spacing="0.35">**</text>
<line x1="224.40" y1="203.50" x2="260.80" y2="203.50" stroke="#707070" stroke-width="1"/>
<text x="245.50" y="202.00" font-family="Liberation Sans, sans-serif" font-size="6.6" text-anchor="middle" fill="#111" stroke="#111" stroke-width="0.22" >ns</text>
<polyline points="223.30,213.80 223.30,210.30 241.60,210.30 241.60,253.90" fill="none" stroke="#707070" stroke-width="1"/>
<text x="232.20" y="210.80" font-family="Liberation Sans, sans-serif" font-weight="bold" font-size="6.8" text-anchor="middle" fill="#111" stroke="#111" stroke-width="0.35"  letter-spacing="0.35">***</text>
<text x="273.50" y="355.10" font-family="Liberation Sans, sans-serif" font-weight="bold" font-size="6.55" text-anchor="middle" fill="#111" stroke="#111" stroke-width="0.22" >Plus 0.1nM cGMP</text>
<line x1="211.40" y1="380.20" x2="211.40" y2="497.70" stroke="#444" stroke-width="0.9"/>
<line x1="208.10" y1="497.70" x2="211.40" y2="497.70" stroke="#444" stroke-width="0.9"/>
<text x="206.40" y="499.86" font-family="Liberation Sans, sans-serif" font-weight="bold" font-size="6.0" text-anchor="end" fill="#111" stroke="#111" stroke-width="0.22" >0</text>
<line x1="208.10" y1="474.20" x2="211.40" y2="474.20" stroke="#444" stroke-width="0.9"/>
<text x="206.40" y="476.36" font-family="Liberation Sans, sans-serif" font-weight="bold" font-size="6.0" text-anchor="end" fill="#111" stroke="#111" stroke-width="0.22" >100</text>
<line x1="208.10" y1="450.70" x2="211.40" y2="450.70" stroke="#444" stroke-width="0.9"/>
<text x="206.40" y="452.86" font-family="Liberation Sans, sans-serif" font-weight="bold" font-size="6.0" text-anchor="end" fill="#111" stroke="#111" stroke-width="0.22" >200</text>
<line x1="208.10" y1="427.20" x2="211.40" y2="427.20" stroke="#444" stroke-width="0.9"/>
<text x="206.40" y="429.36" font-family="Liberation Sans, sans-serif" font-weight="bold" font-size="6.0" text-anchor="end" fill="#111" stroke="#111" stroke-width="0.22" >300</text>
<line x1="208.10" y1="403.70" x2="211.40" y2="403.70" stroke="#444" stroke-width="0.9"/>
<text x="206.40" y="405.86" font-family="Liberation Sans, sans-serif" font-weight="bold" font-size="6.0" text-anchor="end" fill="#111" stroke="#111" stroke-width="0.22" >400</text>
<line x1="208.10" y1="380.20" x2="211.40" y2="380.20" stroke="#444" stroke-width="0.9"/>
<text x="206.40" y="382.36" font-family="Liberation Sans, sans-serif" font-weight="bold" font-size="6.0" text-anchor="end" fill="#111" stroke="#111" stroke-width="0.22" >500</text>
<text transform="translate(192.10,434.50) rotate(-90)" font-family="Liberation Sans, sans-serif" font-weight="bold" font-size="6.7" text-anchor="middle" fill="#111" stroke="#111" stroke-width="0.22" >TNF-&#945; production [pg/mL]</text>
<rect x="218.30" y="430.30" width="12.30" height="66.90" fill="#d9d9d9" stroke="#555" stroke-width="0.9"/>
<circle cx="222.30" cy="416.50" r="1.75" fill="#000"/>
<circle cx="227.40" cy="415.10" r="1.75" fill="#000"/>
<circle cx="222.30" cy="426.60" r="1.75" fill="#000"/>
<circle cx="227.40" cy="425.70" r="1.75" fill="#000"/>
<circle cx="220.80" cy="433.80" r="1.75" fill="#000"/>
<circle cx="227.40" cy="438.10" r="1.75" fill="#000"/>
<circle cx="224.60" cy="449.60" r="1.75" fill="#000"/>
<line x1="224.45" y1="425.70" x2="224.45" y2="434.40" stroke="#222" stroke-width="0.9"/>
<line x1="222.15" y1="425.70" x2="226.75" y2="425.70" stroke="#222" stroke-width="0.9"/>
<line x1="222.15" y1="434.40" x2="226.75" y2="434.40" stroke="#222" stroke-width="0.9"/>
<text transform="translate(228.95,505.90) rotate(-45)" font-family="Liberation Sans, sans-serif" font-weight="bold" font-size="6.5" text-anchor="end" fill="#111" stroke="#111" stroke-width="0.22" >EV</text>
<rect x="238.10" y="471.20" width="12.30" height="26.00" fill="#d9d9d9" stroke="#555" stroke-width="0.9"/>
<circle cx="245.30" cy="462.00" r="1.75" fill="#000"/>
<circle cx="241.00" cy="464.00" r="1.75" fill="#000"/>
<circle cx="247.60" cy="465.40" r="1.75" fill="#000"/>
<circle cx="241.00" cy="467.70" r="1.75" fill="#000"/>
<circle cx="245.30" cy="469.70" r="1.75" fill="#000"/>
<circle cx="240.10" cy="474.10" r="1.75" fill="#000"/>
<circle cx="245.30" cy="474.10" r="1.75" fill="#000"/>
<circle cx="241.80" cy="478.40" r="1.75" fill="#000"/>
<circle cx="243.80" cy="482.10" r="1.75" fill="#000"/>
<line x1="244.25" y1="468.00" x2="244.25" y2="474.50" stroke="#222" stroke-width="0.9"/>
<line x1="241.95" y1="468.00" x2="246.55" y2="468.00" stroke="#222" stroke-width="0.9"/>
<line x1="241.95" y1="474.50" x2="246.55" y2="474.50" stroke="#222" stroke-width="0.9"/>
<text transform="translate(248.75,505.90) rotate(-45)" font-family="Liberation Sans, sans-serif" font-weight="bold" font-size="6.5" text-anchor="end" fill="#111" stroke="#111" stroke-width="0.22" >WT</text>
<rect x="257.40" y="444.40" width="12.30" height="52.80" fill="#d9d9d9" stroke="#555" stroke-width="0.9"/>
<circle cx="261.10" cy="422.80" r="1.75" fill="#000"/>
<circle cx="266.00" cy="424.60" r="1.75" fill="#000"/>
<circle cx="261.10" cy="431.50" r="1.75" fill="#000"/>
<circle cx="266.00" cy="432.30" r="1.75" fill="#000"/>
<circle cx="261.10" cy="458.20" r="1.75" fill="#000"/>
<circle cx="266.90" cy="458.20" r="1.75" fill="#000"/>
<circle cx="264.00" cy="466.00" r="1.75" fill="#000"/>
<circle cx="264.00" cy="475.50" r="1.75" fill="#000"/>
<line x1="263.55" y1="437.20" x2="263.55" y2="451.00" stroke="#222" stroke-width="0.9"/>
<line x1="261.25" y1="437.20" x2="265.85" y2="437.20" stroke="#222" stroke-width="0.9"/>
<line x1="261.25" y1="451.00" x2="265.85" y2="451.00" stroke="#222" stroke-width="0.9"/>
<text transform="translate(268.05,505.90) rotate(-45)" font-family="Liberation Sans, sans-serif" font-weight="bold" font-size="6.5" text-anchor="end" fill="#111" stroke="#111" stroke-width="0.22" >R97A</text>
<rect x="277.00" y="466.00" width="12.30" height="31.20" fill="#d9d9d9" stroke="#555" stroke-width="0.9"/>
<circle cx="280.40" cy="454.50" r="1.75" fill="#000"/>
<circle cx="286.20" cy="454.50" r="1.75" fill="#000"/>
<circle cx="280.40" cy="458.20" r="1.75" fill="#000"/>
<circle cx="286.20" cy="458.20" r="1.75" fill="#000"/>
<circle cx="283.30" cy="464.00" r="1.75" fill="#000"/>
<circle cx="280.40" cy="466.90" r="1.75" fill="#000"/>
<circle cx="286.20" cy="474.10" r="1.75" fill="#000"/>
<circle cx="280.40" cy="479.80" r="1.75" fill="#000"/>
<line x1="283.15" y1="462.00" x2="283.15" y2="469.70" stroke="#222" stroke-width="0.9"/>
<line x1="280.85" y1="462.00" x2="285.45" y2="462.00" stroke="#222" stroke-width="0.9"/>
<line x1="280.85" y1="469.70" x2="285.45" y2="469.70" stroke="#222" stroke-width="0.9"/>
<text transform="translate(286.05,504.40) rotate(-45)" font-family="Liberation Sans, sans-serif" font-weight="bold" font-size="6.5" text-anchor="end" fill="#111" stroke="#111" stroke-width="0.22" >D377A</text>
<rect x="297.10" y="459.70" width="12.30" height="37.50" fill="#d9d9d9" stroke="#555" stroke-width="0.9"/>
<circle cx="303.20" cy="435.60" r="1.75" fill="#000"/>
<circle cx="303.20" cy="447.00" r="1.75" fill="#000"/>
<circle cx="303.20" cy="456.00" r="1.75" fill="#000"/>
<circle cx="298.50" cy="461.10" r="1.75" fill="#000"/>
<circle cx="307.20" cy="461.10" r="1.75" fill="#000"/>
<circle cx="301.40" cy="464.00" r="1.75" fill="#000"/>
<circle cx="304.30" cy="465.40" r="1.75" fill="#000"/>
<circle cx="298.50" cy="466.90" r="1.75" fill="#000"/>
<circle cx="307.20" cy="466.90" r="1.75" fill="#000"/>
<line x1="303.25" y1="455.40" x2="303.25" y2="464.00" stroke="#222" stroke-width="0.9"/>
<line x1="300.95" y1="455.40" x2="305.55" y2="455.40" stroke="#222" stroke-width="0.9"/>
<line x1="300.95" y1="464.00" x2="305.55" y2="464.00" stroke="#222" stroke-width="0.9"/>
<text transform="translate(304.85,504.70) rotate(-45)" font-family="Liberation Sans, sans-serif" font-weight="bold" font-size="6.5" text-anchor="end" fill="#111" stroke="#111" stroke-width="0.22" >D385A</text>
<rect x="317.30" y="458.10" width="12.30" height="39.10" fill="#d9d9d9" stroke="#555" stroke-width="0.9"/>
<circle cx="323.00" cy="435.60" r="1.75" fill="#000"/>
<circle cx="325.70" cy="450.60" r="1.75" fill="#000"/>
<circle cx="320.20" cy="452.10" r="1.75" fill="#000"/>
<circle cx="325.70" cy="456.00" r="1.75" fill="#000"/>
<circle cx="320.20" cy="457.20" r="1.75" fill="#000"/>
<circle cx="320.20" cy="466.20" r="1.75" fill="#000"/>
<circle cx="325.70" cy="468.50" r="1.75" fill="#000"/>
<line x1="323.45" y1="454.50" x2="323.45" y2="461.50" stroke="#222" stroke-width="0.9"/>
<line x1="321.15" y1="454.50" x2="325.75" y2="454.50" stroke="#222" stroke-width="0.9"/>
<line x1="321.15" y1="461.50" x2="325.75" y2="461.50" stroke="#222" stroke-width="0.9"/>
<text transform="translate(325.55,502.80) rotate(-45)" font-family="Liberation Sans, sans-serif" font-weight="bold" font-size="6.5" text-anchor="end" fill="#111" stroke="#111" stroke-width="0.22" >R97A / R372L</text>
<polyline points="224.60,380.00 224.60,370.40 322.60,370.40 322.60,412.20" fill="none" stroke="#707070" stroke-width="1"/>
<text x="269.00" y="369.80" font-family="Liberation Sans, sans-serif" font-weight="bold" font-size="6.8" text-anchor="middle" fill="#111" stroke="#111" stroke-width="0.35"  letter-spacing="0.35">**</text>
<line x1="224.60" y1="379.30" x2="303.00" y2="379.30" stroke="#707070" stroke-width="1"/>
<line x1="303.00" y1="379.30" x2="303.00" y2="410.70" stroke="#707070" stroke-width="1"/>
<text x="267.70" y="379.20" font-family="Liberation Sans, sans-serif" font-weight="bold" font-size="6.8" text-anchor="middle" fill="#111" stroke="#111" stroke-width="0.35"  letter-spacing="0.35">***</text>
<line x1="224.60" y1="386.70" x2="283.80" y2="386.70" stroke="#707070" stroke-width="1"/>
<line x1="283.80" y1="386.70" x2="283.80" y2="440.00" stroke="#707070" stroke-width="1"/>
<text x="254.20" y="386.40" font-family="Liberation Sans, sans-serif" font-weight="bold" font-size="6.8" text-anchor="middle" fill="#111" stroke="#111" stroke-width="0.35"  letter-spacing="0.35">****</text>
<line x1="224.80" y1="394.40" x2="262.50" y2="394.40" stroke="#707070" stroke-width="1"/>
<text x="245.40" y="392.60" font-family="Liberation Sans, sans-serif" font-size="6.6" text-anchor="middle" fill="#111" stroke="#111" stroke-width="0.22" >ns</text>
<polyline points="224.40,409.50 224.40,402.30 237.70,402.30 237.70,462.00" fill="none" stroke="#707070" stroke-width="1"/>
<text x="231.50" y="401.50" font-family="Liberation Sans, sans-serif" font-weight="bold" font-size="6.8" text-anchor="middle" fill="#111" stroke="#111" stroke-width="0.35"  letter-spacing="0.35">****</text>
<polyline points="247.00,462.00 247.00,402.30 261.80,402.30 261.80,409.50" fill="none" stroke="#707070" stroke-width="1"/>
<text x="273.50" y="547.00" font-family="Liberation Sans, sans-serif" font-weight="bold" font-size="6.55" text-anchor="middle" fill="#111" stroke="#111" stroke-width="0.22" >Plus 0.1nM cGMP</text>
<text x="349.90" y="181.80" font-family="Liberation Sans, sans-serif" font-weight="bold" font-size="7.8" text-anchor="start" fill="#111" stroke="#111" stroke-width="0.22" >d</text>
<text x="384.90" y="193.80" font-family="Liberation Sans, sans-serif" font-weight="bold" font-size="8.0" text-anchor="middle" fill="#111" stroke="#111" stroke-width="0.22" >WT</text>
<text x="385.10" y="276.40" font-family="Liberation Sans, sans-serif" font-weight="bold" font-size="8.0" text-anchor="middle" fill="#111" stroke="#111" stroke-width="0.22" >R372L</text>
<text x="385.10" y="359.30" font-family="Liberation Sans, sans-serif" font-weight="bold" font-size="8.0" text-anchor="middle" fill="#111" stroke="#111" stroke-width="0.22" >S359L / G361L</text>
<clipPath id="clip11"><rect x="357" y="198.3" width="56.8" height="55.6"/></clipPath>
<g clip-path="url(#clip11)" style="isolation:isolate">
<rect x="357" y="198.3" width="56.8" height="55.6" fill="#000"/>
<g filter="url(#bl3)" style="mix-blend-mode:screen">
<circle cx="382.7" cy="229.4" r="3.1" fill="rgb(0,0,64)"/>
<circle cx="382.7" cy="245.8" r="1.8" fill="rgb(0,0,67)"/>
<circle cx="384.0" cy="232.4" r="1.8" fill="rgb(0,0,63)"/>
<circle cx="374.2" cy="203.3" r="2.9" fill="rgb(0,0,79)"/>
<circle cx="393.0" cy="231.4" r="2.2" fill="rgb(0,0,63)"/>
<circle cx="394.1" cy="232.5" r="1.8" fill="rgb(0,0,35)"/>
<circle cx="393.4" cy="226.1" r="2.6" fill="rgb(0,0,64)"/>
<circle cx="394.2" cy="220.9" r="2.4" fill="rgb(0,0,40)"/>
<circle cx="397.2" cy="215.8" r="1.9" fill="rgb(0,0,53)"/>
<circle cx="411.4" cy="245.4" r="1.5" fill="rgb(0,0,48)"/>
<circle cx="361.1" cy="233.3" r="2.8" fill="rgb(0,0,52)"/>
<circle cx="376.1" cy="215.6" r="1.5" fill="rgb(0,0,61)"/>
<circle cx="400.1" cy="204.9" r="1.9" fill="rgb(0,0,41)"/>
<circle cx="383.4" cy="225.4" r="2.7" fill="rgb(0,0,47)"/>
<circle cx="382.4" cy="208.9" r="2.7" fill="rgb(0,0,43)"/>
<circle cx="380.8" cy="219.6" r="2.2" fill="rgb(0,0,48)"/>
<circle cx="357.0" cy="246.4" r="3.2" fill="rgb(0,0,72)"/>
<circle cx="374.3" cy="247.5" r="1.9" fill="rgb(0,0,60)"/>
<circle cx="413.6" cy="231.8" r="2.5" fill="rgb(0,0,37)"/>
<circle cx="413.2" cy="210.2" r="1.9" fill="rgb(0,0,74)"/>
<circle cx="373.8" cy="202.4" r="1.7" fill="rgb(0,0,72)"/>
<circle cx="411.5" cy="225.2" r="2.5" fill="rgb(0,0,59)"/>
<circle cx="367.4" cy="206.9" r="3.0" fill="rgb(0,0,74)"/>
<circle cx="371.2" cy="208.9" r="2.8" fill="rgb(0,0,70)"/>
<circle cx="368.2" cy="251.1" r="3.0" fill="rgb(0,0,73)"/>
<circle cx="361.5" cy="200.9" r="1.7" fill="rgb(0,0,67)"/>
<circle cx="408.4" cy="225.6" r="2.4" fill="rgb(0,0,39)"/>
<circle cx="364.2" cy="224.9" r="2.6" fill="rgb(0,0,74)"/>
<circle cx="360.9" cy="221.2" r="1.9" fill="rgb(0,0,37)"/>
<circle cx="367.0" cy="218.8" r="2.5" fill="rgb(0,0,43)"/>
<circle cx="362.2" cy="206.0" r="2.3" fill="rgb(0,0,56)"/>
<circle cx="394.3" cy="236.7" r="2.5" fill="rgb(0,0,43)"/>
<circle cx="390.5" cy="249.7" r="2.3" fill="rgb(0,0,57)"/>
<circle cx="396.8" cy="251.8" r="1.5" fill="rgb(0,0,75)"/>
<circle cx="361.3" cy="202.0" r="2.0" fill="rgb(0,0,43)"/>
<circle cx="398.9" cy="237.4" r="2.8" fill="rgb(0,0,56)"/>
<circle cx="377.0" cy="236.4" r="3.0" fill="rgb(0,0,61)"/>
<circle cx="378.7" cy="230.7" r="2.5" fill="rgb(0,0,40)"/>
<circle cx="362.1" cy="204.7" r="1.9" fill="rgb(0,0,61)"/>
<circle cx="398.4" cy="219.9" r="2.7" fill="rgb(0,0,72)"/>
<circle cx="383.0" cy="224.0" r="2.4" fill="rgb(0,0,68)"/>
<circle cx="399.6" cy="200.0" r="2.5" fill="rgb(0,0,65)"/>
<circle cx="371.5" cy="198.9" r="2.0" fill="rgb(0,0,78)"/>
<circle cx="391.7" cy="227.1" r="2.8" fill="rgb(0,0,56)"/>
<circle cx="394.5" cy="222.9" r="3.0" fill="rgb(0,0,55)"/>
<circle cx="380.0" cy="212.2" r="2.6" fill="rgb(0,0,47)"/>
<circle cx="407.0" cy="219.7" r="2.5" fill="rgb(0,0,55)"/>
<circle cx="368.9" cy="205.8" r="2.1" fill="rgb(0,0,37)"/>
<circle cx="397.4" cy="251.1" r="2.0" fill="rgb(0,0,45)"/>
<circle cx="363.4" cy="224.5" r="3.1" fill="rgb(0,0,61)"/>
<circle cx="378.7" cy="227.2" r="2.6" fill="rgb(0,0,80)"/>
<circle cx="404.7" cy="252.9" r="2.3" fill="rgb(0,0,39)"/>
<circle cx="380.0" cy="208.9" r="2.8" fill="rgb(0,0,52)"/>
<circle cx="370.5" cy="206.1" r="1.6" fill="rgb(0,0,75)"/>
<circle cx="363.5" cy="204.4" r="2.4" fill="rgb(0,0,75)"/>
<circle cx="402.9" cy="251.6" r="2.7" fill="rgb(0,0,47)"/>
<circle cx="359.1" cy="210.9" r="2.8" fill="rgb(0,0,69)"/>
</g><g filter="url(#bl1)" style="mix-blend-mode:screen">
<circle cx="396.6" cy="227.2" r="0.9" fill="rgb(0,0,65)"/>
<circle cx="379.4" cy="242.3" r="1.0" fill="rgb(0,0,56)"/>
<circle cx="380.3" cy="247.9" r="0.7" fill="rgb(0,0,102)"/>
<circle cx="382.8" cy="233.1" r="1.0" fill="rgb(0,0,93)"/>
<circle cx="388.2" cy="234.6" r="0.8" fill="rgb(0,0,88)"/>
<circle cx="383.3" cy="234.5" r="0.6" fill="rgb(0,0,60)"/>
<circle cx="369.1" cy="248.3" r="1.1" fill="rgb(0,0,84)"/>
<circle cx="387.5" cy="242.3" r="0.7" fill="rgb(0,0,47)"/>
<circle cx="376.8" cy="202.9" r="0.8" fill="rgb(0,0,115)"/>
<circle cx="380.9" cy="213.6" r="1.1" fill="rgb(0,0,72)"/>
<circle cx="396.0" cy="249.2" r="0.8" fill="rgb(0,0,111)"/>
<circle cx="408.2" cy="227.1" r="0.9" fill="rgb(0,0,101)"/>
<circle cx="410.7" cy="225.7" r="1.1" fill="rgb(0,0,56)"/>
<circle cx="400.0" cy="222.7" r="0.8" fill="rgb(0,0,116)"/>
<circle cx="393.3" cy="227.4" r="1.0" fill="rgb(0,0,116)"/>
<circle cx="371.6" cy="235.6" r="1.1" fill="rgb(0,0,71)"/>
<circle cx="374.3" cy="206.1" r="0.8" fill="rgb(0,0,79)"/>
<circle cx="389.5" cy="209.5" r="0.8" fill="rgb(0,0,109)"/>
<circle cx="378.4" cy="228.2" r="0.5" fill="rgb(0,0,96)"/>
<circle cx="387.9" cy="253.3" r="0.6" fill="rgb(0,0,56)"/>
<circle cx="402.5" cy="220.8" r="0.6" fill="rgb(0,0,108)"/>
<circle cx="364.2" cy="222.4" r="1.0" fill="rgb(0,0,105)"/>
<circle cx="364.4" cy="241.6" r="0.5" fill="rgb(0,0,69)"/>
<circle cx="365.8" cy="199.0" r="0.7" fill="rgb(0,0,90)"/>
<circle cx="370.9" cy="226.0" r="0.8" fill="rgb(0,0,119)"/>
<circle cx="364.0" cy="226.7" r="0.7" fill="rgb(0,0,70)"/>
<circle cx="396.8" cy="247.2" r="0.5" fill="rgb(0,0,97)"/>
<circle cx="403.9" cy="232.5" r="0.8" fill="rgb(0,0,113)"/>
<circle cx="393.3" cy="227.7" r="1.0" fill="rgb(0,0,120)"/>
<circle cx="374.9" cy="215.8" r="1.1" fill="rgb(0,0,72)"/>
<circle cx="401.2" cy="209.1" r="0.6" fill="rgb(0,0,75)"/>
<circle cx="362.0" cy="219.9" r="0.8" fill="rgb(0,0,98)"/>
<circle cx="387.9" cy="237.5" r="0.6" fill="rgb(0,0,47)"/>
<circle cx="362.5" cy="230.0" r="0.7" fill="rgb(0,0,91)"/>
<circle cx="363.6" cy="226.4" r="1.0" fill="rgb(0,0,109)"/>
<circle cx="413.7" cy="244.6" r="1.0" fill="rgb(0,0,106)"/>
<circle cx="363.0" cy="200.4" r="0.8" fill="rgb(0,0,110)"/>
<circle cx="408.4" cy="225.1" r="0.6" fill="rgb(0,0,59)"/>
<circle cx="368.6" cy="245.0" r="1.1" fill="rgb(0,0,57)"/>
<circle cx="375.6" cy="224.3" r="0.8" fill="rgb(0,0,100)"/>
<circle cx="368.9" cy="219.0" r="0.9" fill="rgb(0,0,50)"/>
<circle cx="368.1" cy="207.5" r="0.8" fill="rgb(0,0,46)"/>
<circle cx="375.4" cy="203.0" r="1.0" fill="rgb(0,0,96)"/>
<circle cx="371.7" cy="249.0" r="0.9" fill="rgb(0,0,65)"/>
<circle cx="403.3" cy="220.9" r="1.0" fill="rgb(0,0,113)"/>
<circle cx="396.5" cy="241.0" r="1.0" fill="rgb(0,0,96)"/>
<circle cx="368.7" cy="208.6" r="1.0" fill="rgb(0,0,83)"/>
<circle cx="383.6" cy="198.9" r="0.7" fill="rgb(0,0,51)"/>
<circle cx="370.2" cy="250.8" r="0.9" fill="rgb(0,0,88)"/>
<circle cx="369.3" cy="220.9" r="0.6" fill="rgb(0,0,54)"/>
<circle cx="379.1" cy="253.9" r="0.9" fill="rgb(0,0,60)"/>
<circle cx="400.3" cy="252.8" r="0.5" fill="rgb(0,0,58)"/>
<circle cx="388.2" cy="226.5" r="1.1" fill="rgb(0,0,117)"/>
<circle cx="395.0" cy="251.4" r="0.7" fill="rgb(0,0,65)"/>
<circle cx="378.9" cy="252.2" r="1.0" fill="rgb(0,0,114)"/>
<circle cx="391.7" cy="201.6" r="1.1" fill="rgb(0,0,98)"/>
<circle cx="379.6" cy="215.7" r="0.8" fill="rgb(0,0,106)"/>
<circle cx="394.2" cy="229.5" r="0.7" fill="rgb(0,0,82)"/>
<circle cx="358.5" cy="241.3" r="0.9" fill="rgb(0,0,65)"/>
<circle cx="380.2" cy="236.3" r="0.5" fill="rgb(0,0,85)"/>
<circle cx="399.5" cy="201.1" r="1.1" fill="rgb(0,0,85)"/>
<circle cx="408.4" cy="222.2" r="0.8" fill="rgb(0,0,76)"/>
<circle cx="359.6" cy="203.8" r="1.0" fill="rgb(0,0,104)"/>
<circle cx="365.2" cy="251.7" r="0.6" fill="rgb(0,0,59)"/>
<circle cx="359.9" cy="221.5" r="0.6" fill="rgb(0,0,51)"/>
<circle cx="377.3" cy="206.9" r="0.7" fill="rgb(0,0,62)"/>
<circle cx="394.9" cy="223.6" r="0.7" fill="rgb(0,0,119)"/>
<circle cx="395.7" cy="218.5" r="0.9" fill="rgb(0,0,62)"/>
<circle cx="411.1" cy="239.1" r="0.6" fill="rgb(0,0,59)"/>
<circle cx="385.6" cy="215.5" r="0.8" fill="rgb(0,0,90)"/>
<circle cx="391.6" cy="238.6" r="0.9" fill="rgb(0,0,69)"/>
<circle cx="393.0" cy="240.2" r="0.6" fill="rgb(0,0,76)"/>
<circle cx="385.5" cy="234.6" r="0.6" fill="rgb(0,0,50)"/>
<circle cx="362.8" cy="228.4" r="0.5" fill="rgb(0,0,56)"/>
<circle cx="377.1" cy="217.1" r="0.8" fill="rgb(0,0,62)"/>
<circle cx="399.4" cy="220.0" r="0.6" fill="rgb(0,0,64)"/>
<circle cx="394.1" cy="253.3" r="0.7" fill="rgb(0,0,115)"/>
<circle cx="400.1" cy="244.2" r="0.6" fill="rgb(0,0,92)"/>
<circle cx="390.0" cy="224.0" r="0.7" fill="rgb(0,0,114)"/>
<circle cx="361.7" cy="229.7" r="0.8" fill="rgb(0,0,104)"/>
<circle cx="374.0" cy="241.4" r="0.5" fill="rgb(0,0,72)"/>
<circle cx="408.7" cy="231.9" r="0.9" fill="rgb(0,0,108)"/>
<circle cx="398.2" cy="236.9" r="0.7" fill="rgb(0,0,63)"/>
<circle cx="369.4" cy="234.8" r="0.7" fill="rgb(0,0,60)"/>
<circle cx="375.3" cy="222.8" r="0.9" fill="rgb(0,0,80)"/>
<circle cx="381.9" cy="242.9" r="0.7" fill="rgb(0,0,85)"/>
<circle cx="369.6" cy="252.1" r="0.9" fill="rgb(0,0,111)"/>
<circle cx="371.1" cy="218.4" r="0.7" fill="rgb(0,0,91)"/>
<circle cx="395.5" cy="230.8" r="1.0" fill="rgb(0,0,117)"/>
<circle cx="377.9" cy="220.0" r="0.6" fill="rgb(0,0,120)"/>
<circle cx="369.6" cy="201.5" r="0.6" fill="rgb(0,0,82)"/>
<circle cx="411.9" cy="234.5" r="1.0" fill="rgb(0,0,53)"/>
<circle cx="390.1" cy="215.3" r="0.8" fill="rgb(0,0,87)"/>
<circle cx="398.9" cy="248.3" r="0.6" fill="rgb(0,0,63)"/>
<circle cx="362.5" cy="243.7" r="0.8" fill="rgb(0,0,73)"/>
<circle cx="384.8" cy="248.8" r="0.7" fill="rgb(0,0,103)"/>
<circle cx="379.4" cy="217.1" r="1.1" fill="rgb(0,0,62)"/>
<circle cx="385.0" cy="228.2" r="0.9" fill="rgb(0,0,50)"/>
<circle cx="380.3" cy="244.2" r="0.9" fill="rgb(0,0,45)"/>
<circle cx="402.8" cy="244.7" r="1.0" fill="rgb(0,0,114)"/>
<circle cx="393.4" cy="227.4" r="0.9" fill="rgb(0,0,59)"/>
<circle cx="380.9" cy="221.7" r="0.6" fill="rgb(0,0,65)"/>
<circle cx="413.3" cy="219.2" r="0.6" fill="rgb(0,0,71)"/>
<circle cx="379.1" cy="227.7" r="0.7" fill="rgb(0,0,52)"/>
<circle cx="383.8" cy="238.9" r="0.7" fill="rgb(0,0,64)"/>
<circle cx="401.1" cy="208.3" r="0.5" fill="rgb(0,0,103)"/>
<circle cx="384.3" cy="242.8" r="0.7" fill="rgb(0,0,70)"/>
<circle cx="367.5" cy="210.4" r="0.6" fill="rgb(0,0,105)"/>
<circle cx="408.7" cy="250.4" r="0.9" fill="rgb(0,0,115)"/>
<circle cx="384.2" cy="212.8" r="1.0" fill="rgb(0,0,88)"/>
<circle cx="394.5" cy="241.2" r="0.6" fill="rgb(0,0,73)"/>
<circle cx="379.7" cy="210.4" r="0.6" fill="rgb(0,0,94)"/>
<circle cx="412.4" cy="242.5" r="1.0" fill="rgb(0,0,52)"/>
<circle cx="382.6" cy="212.0" r="0.8" fill="rgb(0,0,65)"/>
<circle cx="380.6" cy="241.2" r="0.6" fill="rgb(0,0,111)"/>
<circle cx="364.4" cy="239.5" r="0.9" fill="rgb(0,0,111)"/>
<circle cx="387.4" cy="206.7" r="1.0" fill="rgb(0,0,45)"/>
<circle cx="409.0" cy="206.6" r="0.6" fill="rgb(0,0,90)"/>
<circle cx="397.7" cy="203.7" r="0.8" fill="rgb(0,0,104)"/>
<circle cx="399.5" cy="228.5" r="0.8" fill="rgb(0,0,47)"/>
<circle cx="401.8" cy="221.5" r="1.1" fill="rgb(0,0,56)"/>
<circle cx="401.4" cy="222.8" r="0.5" fill="rgb(0,0,97)"/>
<circle cx="386.9" cy="207.1" r="1.0" fill="rgb(0,0,84)"/>
<circle cx="380.0" cy="229.2" r="1.1" fill="rgb(0,0,53)"/>
<circle cx="377.4" cy="236.5" r="0.6" fill="rgb(0,0,95)"/>
<circle cx="395.4" cy="239.8" r="1.0" fill="rgb(0,0,60)"/>
<circle cx="394.1" cy="199.0" r="0.7" fill="rgb(0,0,105)"/>
<circle cx="389.0" cy="223.8" r="0.5" fill="rgb(0,0,71)"/>
<circle cx="411.2" cy="240.3" r="0.8" fill="rgb(0,0,56)"/>
<circle cx="371.6" cy="209.4" r="0.9" fill="rgb(0,0,87)"/>
<circle cx="374.6" cy="213.5" r="0.8" fill="rgb(0,0,87)"/>
<circle cx="382.4" cy="219.6" r="0.6" fill="rgb(0,0,57)"/>
<circle cx="364.5" cy="233.3" r="0.6" fill="rgb(0,0,69)"/>
<circle cx="379.8" cy="244.8" r="0.9" fill="rgb(0,0,56)"/>
<circle cx="362.7" cy="200.1" r="1.1" fill="rgb(0,0,100)"/>
<circle cx="380.1" cy="202.3" r="1.1" fill="rgb(0,0,99)"/>
<circle cx="378.9" cy="216.7" r="0.7" fill="rgb(0,0,46)"/>
<circle cx="398.3" cy="232.4" r="0.7" fill="rgb(0,0,76)"/>
<circle cx="394.5" cy="232.1" r="0.5" fill="rgb(0,0,87)"/>
<circle cx="367.7" cy="215.4" r="0.8" fill="rgb(0,0,116)"/>
<circle cx="378.4" cy="226.6" r="1.0" fill="rgb(0,0,58)"/>
<circle cx="377.0" cy="226.1" r="0.6" fill="rgb(0,0,70)"/>
<circle cx="413.0" cy="227.0" r="0.9" fill="rgb(0,0,70)"/>
<circle cx="389.2" cy="199.8" r="0.9" fill="rgb(0,0,55)"/>
<circle cx="384.1" cy="221.5" r="0.7" fill="rgb(0,0,56)"/>
<circle cx="409.8" cy="218.4" r="0.8" fill="rgb(0,0,60)"/>
<circle cx="382.7" cy="238.9" r="0.6" fill="rgb(0,0,117)"/>
<circle cx="387.9" cy="229.5" r="0.8" fill="rgb(0,0,78)"/>
<circle cx="366.6" cy="239.8" r="1.0" fill="rgb(0,0,87)"/>
<circle cx="377.7" cy="240.5" r="0.7" fill="rgb(0,0,66)"/>
<circle cx="367.5" cy="228.8" r="0.5" fill="rgb(0,0,49)"/>
<circle cx="379.9" cy="241.8" r="1.1" fill="rgb(0,0,62)"/>
<circle cx="374.5" cy="235.6" r="0.9" fill="rgb(0,0,93)"/>
<circle cx="391.9" cy="233.9" r="1.0" fill="rgb(0,0,65)"/>
<circle cx="368.3" cy="224.3" r="0.6" fill="rgb(0,0,94)"/>
<circle cx="363.7" cy="220.9" r="0.7" fill="rgb(0,0,61)"/>
<circle cx="372.0" cy="229.9" r="0.7" fill="rgb(0,0,49)"/>
<circle cx="398.0" cy="242.1" r="0.7" fill="rgb(0,0,108)"/>
<circle cx="391.1" cy="224.4" r="0.7" fill="rgb(0,0,117)"/>
<circle cx="400.1" cy="240.1" r="0.8" fill="rgb(0,0,104)"/>
<circle cx="404.6" cy="245.8" r="0.7" fill="rgb(0,0,100)"/>
<circle cx="363.7" cy="204.7" r="1.1" fill="rgb(0,0,87)"/>
<circle cx="386.8" cy="222.3" r="1.0" fill="rgb(0,0,86)"/>
<circle cx="390.9" cy="240.1" r="0.7" fill="rgb(0,0,120)"/>
<circle cx="379.5" cy="201.2" r="0.9" fill="rgb(0,0,112)"/>
<circle cx="408.7" cy="228.6" r="0.9" fill="rgb(0,0,75)"/>
<circle cx="407.0" cy="253.9" r="0.9" fill="rgb(0,0,92)"/>
<circle cx="406.2" cy="221.7" r="1.0" fill="rgb(0,0,73)"/>
<circle cx="393.9" cy="221.7" r="0.6" fill="rgb(0,0,54)"/>
<circle cx="362.6" cy="242.4" r="0.6" fill="rgb(0,0,113)"/>
<circle cx="389.7" cy="223.5" r="0.7" fill="rgb(0,0,83)"/>
<circle cx="358.4" cy="207.9" r="0.8" fill="rgb(0,0,102)"/>
<circle cx="403.3" cy="220.4" r="0.7" fill="rgb(0,0,119)"/>
<circle cx="370.1" cy="215.3" r="0.8" fill="rgb(0,0,85)"/>
<circle cx="374.5" cy="226.0" r="1.1" fill="rgb(0,0,105)"/>
<circle cx="406.9" cy="209.6" r="1.0" fill="rgb(0,0,52)"/>
<circle cx="396.6" cy="229.4" r="0.8" fill="rgb(0,0,75)"/>
<circle cx="367.9" cy="247.2" r="0.5" fill="rgb(0,0,58)"/>
<circle cx="374.4" cy="243.8" r="1.1" fill="rgb(0,0,80)"/>
<circle cx="406.4" cy="238.0" r="0.6" fill="rgb(0,0,101)"/>
<circle cx="380.6" cy="207.7" r="1.0" fill="rgb(0,0,60)"/>
<circle cx="373.8" cy="213.5" r="1.0" fill="rgb(0,0,112)"/>
<circle cx="407.2" cy="231.1" r="0.6" fill="rgb(0,0,83)"/>
<circle cx="362.1" cy="253.0" r="0.8" fill="rgb(0,0,112)"/>
<circle cx="361.2" cy="248.8" r="0.5" fill="rgb(0,0,120)"/>
<circle cx="373.2" cy="212.3" r="1.0" fill="rgb(0,0,56)"/>
<circle cx="366.3" cy="253.3" r="0.6" fill="rgb(0,0,67)"/>
<circle cx="372.9" cy="228.8" r="0.6" fill="rgb(0,0,64)"/>
<circle cx="409.8" cy="226.1" r="0.6" fill="rgb(0,0,116)"/>
<circle cx="401.1" cy="248.9" r="0.7" fill="rgb(0,0,106)"/>
<circle cx="401.5" cy="227.0" r="0.8" fill="rgb(0,0,111)"/>
<circle cx="399.3" cy="227.9" r="0.9" fill="rgb(0,0,66)"/>
<circle cx="363.4" cy="222.5" r="0.9" fill="rgb(0,0,115)"/>
<circle cx="400.9" cy="242.0" r="1.0" fill="rgb(0,0,75)"/>
<circle cx="371.7" cy="228.6" r="1.0" fill="rgb(0,0,108)"/>
<circle cx="371.8" cy="209.6" r="1.1" fill="rgb(0,0,51)"/>
<circle cx="389.5" cy="246.8" r="0.6" fill="rgb(0,0,64)"/>
<circle cx="391.6" cy="232.1" r="1.0" fill="rgb(0,0,109)"/>
<circle cx="382.1" cy="212.9" r="1.0" fill="rgb(0,0,54)"/>
<circle cx="363.5" cy="208.2" r="0.9" fill="rgb(0,0,119)"/>
<circle cx="396.5" cy="243.9" r="0.9" fill="rgb(0,0,78)"/>
<circle cx="400.5" cy="226.0" r="0.9" fill="rgb(0,0,110)"/>
<circle cx="366.7" cy="212.5" r="0.6" fill="rgb(0,0,103)"/>
<circle cx="360.5" cy="221.1" r="0.7" fill="rgb(0,0,72)"/>
<circle cx="397.0" cy="251.5" r="0.6" fill="rgb(0,0,62)"/>
<circle cx="365.2" cy="223.6" r="0.9" fill="rgb(0,0,50)"/>
<circle cx="357.2" cy="221.1" r="0.8" fill="rgb(0,0,56)"/>
<circle cx="379.3" cy="214.9" r="0.8" fill="rgb(0,0,54)"/>
<circle cx="412.2" cy="236.1" r="0.9" fill="rgb(0,0,74)"/>
<circle cx="373.8" cy="204.9" r="1.0" fill="rgb(0,0,98)"/>
<circle cx="383.2" cy="250.1" r="0.7" fill="rgb(0,0,88)"/>
<circle cx="410.8" cy="249.6" r="0.6" fill="rgb(0,0,65)"/>
<circle cx="379.9" cy="234.4" r="0.5" fill="rgb(0,0,88)"/>
<circle cx="389.2" cy="249.0" r="1.0" fill="rgb(0,0,67)"/>
<circle cx="383.3" cy="220.1" r="1.0" fill="rgb(0,0,93)"/>
<circle cx="378.5" cy="201.0" r="0.8" fill="rgb(0,0,76)"/>
<circle cx="367.4" cy="228.9" r="0.6" fill="rgb(0,0,71)"/>
<circle cx="379.7" cy="231.3" r="1.0" fill="rgb(0,0,105)"/>
<circle cx="382.4" cy="253.5" r="0.9" fill="rgb(0,0,107)"/>
<circle cx="368.6" cy="219.6" r="0.5" fill="rgb(0,0,80)"/>
<circle cx="377.6" cy="213.6" r="0.5" fill="rgb(0,0,68)"/>
<circle cx="399.1" cy="226.8" r="0.8" fill="rgb(0,0,72)"/>
<circle cx="372.3" cy="218.4" r="0.6" fill="rgb(0,0,91)"/>
<circle cx="364.8" cy="211.7" r="1.0" fill="rgb(0,0,60)"/>
<circle cx="358.2" cy="216.2" r="0.7" fill="rgb(0,0,55)"/>
<circle cx="405.5" cy="219.5" r="0.7" fill="rgb(0,0,111)"/>
<circle cx="395.0" cy="215.1" r="0.9" fill="rgb(0,0,107)"/>
<circle cx="365.6" cy="231.4" r="0.5" fill="rgb(0,0,84)"/>
<circle cx="380.3" cy="224.9" r="0.9" fill="rgb(0,0,111)"/>
<circle cx="397.1" cy="212.8" r="0.9" fill="rgb(0,0,93)"/>
<circle cx="368.6" cy="213.9" r="0.9" fill="rgb(0,0,96)"/>
<circle cx="364.8" cy="227.0" r="0.7" fill="rgb(0,0,58)"/>
<circle cx="373.6" cy="217.5" r="0.6" fill="rgb(0,0,50)"/>
<circle cx="395.0" cy="223.7" r="1.7" fill="rgb(31,51,255)"/>
<circle cx="395.0" cy="234.6" r="1.1" fill="rgb(28,46,230)"/>
<circle cx="361.0" cy="208.0" r="0.9" fill="rgb(25,40,200)"/>
<circle cx="367.0" cy="226.0" r="1.0" fill="rgb(22,36,180)"/>
<circle cx="406.0" cy="240.0" r="1.0" fill="rgb(21,34,170)"/>
<circle cx="371.0" cy="250.0" r="1.0" fill="rgb(20,32,160)"/>
<circle cx="400.0" cy="252.0" r="1.0" fill="rgb(20,32,160)"/>
<circle cx="363.0" cy="243.0" r="1.0" fill="rgb(18,30,150)"/>
</g><g filter="url(#bl3)" style="mix-blend-mode:screen">
<ellipse cx="360" cy="228" rx="2.8" ry="4.5" fill="#1f7a24"/>
<path d="M389,221 L393,218.5 L399,219 L402,224 L403.7,230 L400,235 L395.4,235.8 L391,231 Z" fill="#0e4a1e"/>
</g><g filter="url(#bl4)" opacity="0.55" style="mix-blend-mode:screen">
<path d="M368,213 L371,212.5 L372.5,216 L371.5,220 L369,220.5 L367.7,217 Z" fill="#1c901c"/>
<path d="M368.5,221 L372,220 L375.7,222.5 L375,226 L371,226.5 L369,224.5 Z" fill="#2ee02e"/>
<ellipse cx="377.3" cy="231" rx="2.9" ry="2.4" fill="#4cff4c"/>
<path d="M378.5,221.5 L380.5,221 L384,225 L386,229 L383,232 L381,228.5 L379,225 Z" fill="#1c8f1c"/>
<path d="M384.3,227 L388,226 L391.7,229 L390.8,233.4 L387,234 L384.5,231 Z" fill="#2fd02f"/>
<ellipse cx="378" cy="240.2" rx="4.2" ry="1.6" fill="#3ef03e" transform="rotate(35 378 240.2)"/>
<ellipse cx="362.5" cy="254.5" rx="2.8" ry="1.6" fill="#3fdf3f"/>
</g><g filter="url(#gtex)" style="mix-blend-mode:screen">
<path d="M368,213 L371,212.5 L372.5,216 L371.5,220 L369,220.5 L367.7,217 Z" fill="#1c901c"/>
<path d="M368.5,221 L372,220 L375.7,222.5 L375,226 L371,226.5 L369,224.5 Z" fill="#2ee02e"/>
<ellipse cx="377.3" cy="231" rx="2.9" ry="2.4" fill="#4cff4c"/>
<path d="M378.5,221.5 L380.5,221 L384,225 L386,229 L383,232 L381,228.5 L379,225 Z" fill="#1c8f1c"/>
<path d="M384.3,227 L388,226 L391.7,229 L390.8,233.4 L387,234 L384.5,231 Z" fill="#2fd02f"/>
<ellipse cx="378" cy="240.2" rx="4.2" ry="1.6" fill="#3ef03e" transform="rotate(35 378 240.2)"/>
<ellipse cx="362.5" cy="254.5" rx="2.8" ry="1.6" fill="#3fdf3f"/>
</g></g>
<clipPath id="clip22"><rect x="356.7" y="281.1" width="57.6" height="55.8"/></clipPath>
<g clip-path="url(#clip22)" style="isolation:isolate">
<rect x="356.7" y="281.1" width="57.6" height="55.8" fill="#000"/>
<g filter="url(#bl3)" style="mix-blend-mode:screen">
<circle cx="411.9" cy="288.9" r="1.5" fill="rgb(0,0,63)"/>
<circle cx="367.3" cy="287.8" r="2.6" fill="rgb(0,0,57)"/>
<circle cx="402.4" cy="285.5" r="2.0" fill="rgb(0,0,38)"/>
<circle cx="375.1" cy="314.6" r="3.1" fill="rgb(0,0,78)"/>
<circle cx="398.9" cy="305.1" r="3.0" fill="rgb(0,0,71)"/>
<circle cx="407.5" cy="314.0" r="2.0" fill="rgb(0,0,47)"/>
<circle cx="367.1" cy="287.3" r="2.4" fill="rgb(0,0,71)"/>
<circle cx="360.2" cy="299.3" r="2.1" fill="rgb(0,0,46)"/>
<circle cx="411.8" cy="298.5" r="2.8" fill="rgb(0,0,76)"/>
<circle cx="386.4" cy="296.7" r="2.0" fill="rgb(0,0,79)"/>
<circle cx="367.4" cy="283.8" r="2.4" fill="rgb(0,0,37)"/>
<circle cx="380.9" cy="295.1" r="2.0" fill="rgb(0,0,61)"/>
<circle cx="379.6" cy="332.7" r="1.8" fill="rgb(0,0,71)"/>
<circle cx="378.2" cy="313.6" r="2.0" fill="rgb(0,0,73)"/>
<circle cx="389.0" cy="310.5" r="2.8" fill="rgb(0,0,68)"/>
<circle cx="381.3" cy="286.2" r="2.3" fill="rgb(0,0,41)"/>
<circle cx="381.6" cy="303.6" r="3.1" fill="rgb(0,0,47)"/>
<circle cx="386.2" cy="303.5" r="1.7" fill="rgb(0,0,47)"/>
<circle cx="366.6" cy="311.6" r="2.1" fill="rgb(0,0,56)"/>
<circle cx="409.1" cy="316.2" r="2.3" fill="rgb(0,0,39)"/>
<circle cx="387.5" cy="325.5" r="2.6" fill="rgb(0,0,47)"/>
<circle cx="394.5" cy="286.7" r="1.8" fill="rgb(0,0,42)"/>
<circle cx="404.4" cy="332.5" r="2.3" fill="rgb(0,0,42)"/>
<circle cx="385.4" cy="310.3" r="2.5" fill="rgb(0,0,78)"/>
<circle cx="399.5" cy="307.5" r="2.7" fill="rgb(0,0,76)"/>
<circle cx="397.8" cy="334.4" r="1.7" fill="rgb(0,0,73)"/>
<circle cx="371.6" cy="287.8" r="1.8" fill="rgb(0,0,57)"/>
<circle cx="393.3" cy="300.1" r="1.8" fill="rgb(0,0,79)"/>
<circle cx="391.1" cy="320.2" r="1.8" fill="rgb(0,0,39)"/>
<circle cx="412.4" cy="300.8" r="1.7" fill="rgb(0,0,48)"/>
<circle cx="387.5" cy="308.3" r="1.6" fill="rgb(0,0,36)"/>
<circle cx="372.6" cy="286.5" r="2.3" fill="rgb(0,0,48)"/>
<circle cx="379.9" cy="287.7" r="3.0" fill="rgb(0,0,68)"/>
<circle cx="404.7" cy="283.2" r="2.1" fill="rgb(0,0,74)"/>
<circle cx="358.6" cy="292.4" r="2.3" fill="rgb(0,0,59)"/>
<circle cx="359.5" cy="319.5" r="2.2" fill="rgb(0,0,51)"/>
<circle cx="371.0" cy="294.0" r="2.0" fill="rgb(0,0,39)"/>
<circle cx="410.3" cy="312.7" r="1.8" fill="rgb(0,0,76)"/>
<circle cx="375.1" cy="282.8" r="1.8" fill="rgb(0,0,52)"/>
<circle cx="359.1" cy="308.3" r="1.6" fill="rgb(0,0,35)"/>
<circle cx="369.1" cy="326.4" r="2.3" fill="rgb(0,0,77)"/>
<circle cx="370.1" cy="310.9" r="1.7" fill="rgb(0,0,56)"/>
<circle cx="371.6" cy="335.3" r="2.7" fill="rgb(0,0,79)"/>
<circle cx="378.6" cy="316.8" r="1.8" fill="rgb(0,0,74)"/>
<circle cx="388.5" cy="301.3" r="2.9" fill="rgb(0,0,67)"/>
<circle cx="371.9" cy="295.6" r="2.4" fill="rgb(0,0,57)"/>
<circle cx="405.0" cy="309.6" r="2.7" fill="rgb(0,0,43)"/>
<circle cx="412.8" cy="291.7" r="2.2" fill="rgb(0,0,39)"/>
<circle cx="379.0" cy="317.7" r="1.8" fill="rgb(0,0,45)"/>
<circle cx="361.6" cy="332.5" r="2.1" fill="rgb(0,0,38)"/>
<circle cx="386.5" cy="335.2" r="1.8" fill="rgb(0,0,70)"/>
<circle cx="377.6" cy="334.3" r="1.5" fill="rgb(0,0,55)"/>
<circle cx="400.9" cy="282.3" r="3.1" fill="rgb(0,0,78)"/>
<circle cx="359.7" cy="316.4" r="1.6" fill="rgb(0,0,71)"/>
<circle cx="360.5" cy="291.1" r="2.4" fill="rgb(0,0,55)"/>
<circle cx="409.1" cy="304.1" r="2.6" fill="rgb(0,0,70)"/>
<circle cx="375.8" cy="335.3" r="3.1" fill="rgb(0,0,38)"/>
<circle cx="408.6" cy="325.8" r="2.6" fill="rgb(0,0,55)"/>
<circle cx="395.8" cy="281.3" r="1.9" fill="rgb(0,0,42)"/>
<circle cx="410.0" cy="297.7" r="1.5" fill="rgb(0,0,55)"/>
<circle cx="363.2" cy="331.7" r="2.9" fill="rgb(0,0,46)"/>
<circle cx="365.9" cy="297.0" r="2.2" fill="rgb(0,0,43)"/>
<circle cx="403.5" cy="298.2" r="2.4" fill="rgb(0,0,74)"/>
<circle cx="411.9" cy="302.0" r="1.6" fill="rgb(0,0,52)"/>
<circle cx="386.3" cy="293.2" r="1.7" fill="rgb(0,0,50)"/>
<circle cx="400.0" cy="312.1" r="2.3" fill="rgb(0,0,51)"/>
<circle cx="414.0" cy="326.9" r="1.7" fill="rgb(0,0,65)"/>
<circle cx="375.5" cy="290.4" r="2.1" fill="rgb(0,0,78)"/>
<circle cx="376.3" cy="302.3" r="3.1" fill="rgb(0,0,72)"/>
<circle cx="408.3" cy="305.3" r="2.4" fill="rgb(0,0,60)"/>
</g><g filter="url(#bl1)" style="mix-blend-mode:screen">
<circle cx="396.2" cy="326.2" r="0.9" fill="rgb(0,0,91)"/>
<circle cx="368.7" cy="319.5" r="1.1" fill="rgb(0,0,59)"/>
<circle cx="365.6" cy="306.4" r="1.0" fill="rgb(0,0,72)"/>
<circle cx="389.2" cy="325.3" r="0.7" fill="rgb(0,0,61)"/>
<circle cx="357.9" cy="332.5" r="0.9" fill="rgb(0,0,83)"/>
<circle cx="387.7" cy="313.8" r="0.6" fill="rgb(0,0,88)"/>
<circle cx="399.2" cy="306.2" r="0.9" fill="rgb(0,0,96)"/>
<circle cx="395.1" cy="306.3" r="1.0" fill="rgb(0,0,99)"/>
<circle cx="371.8" cy="329.6" r="1.0" fill="rgb(0,0,73)"/>
<circle cx="393.8" cy="296.2" r="0.7" fill="rgb(0,0,50)"/>
<circle cx="391.4" cy="294.5" r="0.8" fill="rgb(0,0,90)"/>
<circle cx="383.2" cy="326.1" r="1.1" fill="rgb(0,0,60)"/>
<circle cx="390.1" cy="293.8" r="0.7" fill="rgb(0,0,61)"/>
<circle cx="412.3" cy="288.8" r="0.8" fill="rgb(0,0,109)"/>
<circle cx="374.4" cy="324.5" r="0.6" fill="rgb(0,0,110)"/>
<circle cx="397.8" cy="294.1" r="0.6" fill="rgb(0,0,92)"/>
<circle cx="385.8" cy="322.5" r="0.5" fill="rgb(0,0,66)"/>
<circle cx="382.1" cy="326.2" r="0.6" fill="rgb(0,0,65)"/>
<circle cx="386.0" cy="290.1" r="0.6" fill="rgb(0,0,92)"/>
<circle cx="363.7" cy="290.6" r="0.9" fill="rgb(0,0,109)"/>
<circle cx="395.2" cy="319.4" r="0.8" fill="rgb(0,0,86)"/>
<circle cx="396.9" cy="313.3" r="0.6" fill="rgb(0,0,68)"/>
<circle cx="399.6" cy="316.7" r="0.9" fill="rgb(0,0,91)"/>
<circle cx="360.7" cy="327.2" r="0.8" fill="rgb(0,0,97)"/>
<circle cx="392.8" cy="299.8" r="0.8" fill="rgb(0,0,57)"/>
<circle cx="370.0" cy="325.9" r="0.7" fill="rgb(0,0,50)"/>
<circle cx="389.5" cy="315.4" r="0.7" fill="rgb(0,0,86)"/>
<circle cx="410.0" cy="309.6" r="1.0" fill="rgb(0,0,89)"/>
<circle cx="387.7" cy="289.9" r="1.1" fill="rgb(0,0,46)"/>
<circle cx="382.7" cy="302.6" r="0.5" fill="rgb(0,0,48)"/>
<circle cx="405.9" cy="302.8" r="0.7" fill="rgb(0,0,116)"/>
<circle cx="402.4" cy="290.6" r="0.7" fill="rgb(0,0,59)"/>
<circle cx="359.1" cy="326.7" r="0.7" fill="rgb(0,0,68)"/>
<circle cx="382.9" cy="290.3" r="0.5" fill="rgb(0,0,59)"/>
<circle cx="367.8" cy="304.6" r="0.9" fill="rgb(0,0,107)"/>
<circle cx="393.1" cy="298.2" r="0.9" fill="rgb(0,0,79)"/>
<circle cx="377.9" cy="285.7" r="0.8" fill="rgb(0,0,73)"/>
<circle cx="364.9" cy="304.6" r="0.6" fill="rgb(0,0,80)"/>
<circle cx="400.2" cy="301.3" r="1.1" fill="rgb(0,0,103)"/>
<circle cx="387.0" cy="330.4" r="0.8" fill="rgb(0,0,48)"/>
<circle cx="368.9" cy="322.1" r="0.5" fill="rgb(0,0,48)"/>
<circle cx="404.5" cy="287.7" r="0.7" fill="rgb(0,0,59)"/>
<circle cx="393.5" cy="334.4" r="1.1" fill="rgb(0,0,66)"/>
<circle cx="365.3" cy="317.8" r="0.6" fill="rgb(0,0,106)"/>
<circle cx="396.2" cy="287.5" r="1.0" fill="rgb(0,0,62)"/>
<circle cx="371.5" cy="287.9" r="0.7" fill="rgb(0,0,75)"/>
<circle cx="409.3" cy="319.2" r="0.7" fill="rgb(0,0,80)"/>
<circle cx="392.1" cy="318.4" r="0.9" fill="rgb(0,0,116)"/>
<circle cx="409.1" cy="292.2" r="0.6" fill="rgb(0,0,64)"/>
<circle cx="375.1" cy="288.5" r="0.5" fill="rgb(0,0,74)"/>
<circle cx="409.6" cy="313.7" r="1.0" fill="rgb(0,0,82)"/>
<circle cx="363.1" cy="304.4" r="1.0" fill="rgb(0,0,45)"/>
<circle cx="399.4" cy="282.3" r="0.9" fill="rgb(0,0,107)"/>
<circle cx="399.9" cy="304.1" r="0.9" fill="rgb(0,0,110)"/>
<circle cx="400.8" cy="290.9" r="0.7" fill="rgb(0,0,85)"/>
<circle cx="365.8" cy="284.2" r="0.8" fill="rgb(0,0,75)"/>
<circle cx="402.9" cy="309.3" r="0.7" fill="rgb(0,0,61)"/>
<circle cx="372.5" cy="299.0" r="1.1" fill="rgb(0,0,50)"/>
<circle cx="385.9" cy="313.5" r="0.5" fill="rgb(0,0,84)"/>
<circle cx="411.1" cy="310.2" r="0.7" fill="rgb(0,0,90)"/>
<circle cx="380.9" cy="327.6" r="0.6" fill="rgb(0,0,59)"/>
<circle cx="411.3" cy="315.0" r="0.7" fill="rgb(0,0,72)"/>
<circle cx="371.0" cy="324.0" r="0.6" fill="rgb(0,0,82)"/>
<circle cx="359.9" cy="321.6" r="1.0" fill="rgb(0,0,94)"/>
<circle cx="375.5" cy="296.0" r="0.7" fill="rgb(0,0,60)"/>
<circle cx="412.0" cy="300.0" r="1.0" fill="rgb(0,0,91)"/>
<circle cx="372.3" cy="285.1" r="0.9" fill="rgb(0,0,85)"/>
<circle cx="402.4" cy="304.1" r="0.9" fill="rgb(0,0,57)"/>
<circle cx="385.1" cy="336.8" r="1.0" fill="rgb(0,0,75)"/>
<circle cx="397.5" cy="317.6" r="1.0" fill="rgb(0,0,104)"/>
<circle cx="403.8" cy="308.2" r="0.8" fill="rgb(0,0,102)"/>
<circle cx="361.7" cy="300.8" r="0.8" fill="rgb(0,0,108)"/>
<circle cx="373.9" cy="296.6" r="0.6" fill="rgb(0,0,114)"/>
<circle cx="391.8" cy="305.7" r="0.7" fill="rgb(0,0,101)"/>
<circle cx="391.1" cy="314.2" r="0.7" fill="rgb(0,0,98)"/>
<circle cx="370.7" cy="307.7" r="0.8" fill="rgb(0,0,60)"/>
<circle cx="398.6" cy="334.4" r="0.9" fill="rgb(0,0,117)"/>
<circle cx="363.0" cy="334.9" r="0.9" fill="rgb(0,0,89)"/>
<circle cx="400.0" cy="321.5" r="1.0" fill="rgb(0,0,49)"/>
<circle cx="384.6" cy="334.0" r="1.0" fill="rgb(0,0,46)"/>
<circle cx="406.7" cy="303.7" r="0.8" fill="rgb(0,0,51)"/>
<circle cx="378.7" cy="336.0" r="0.7" fill="rgb(0,0,51)"/>
<circle cx="386.8" cy="283.8" r="0.6" fill="rgb(0,0,56)"/>
<circle cx="400.2" cy="304.5" r="0.9" fill="rgb(0,0,110)"/>
<circle cx="395.6" cy="312.9" r="1.0" fill="rgb(0,0,110)"/>
<circle cx="361.1" cy="309.6" r="1.0" fill="rgb(0,0,84)"/>
<circle cx="358.9" cy="302.9" r="0.6" fill="rgb(0,0,56)"/>
<circle cx="399.2" cy="329.4" r="1.1" fill="rgb(0,0,70)"/>
<circle cx="387.6" cy="290.8" r="0.8" fill="rgb(0,0,74)"/>
<circle cx="362.2" cy="290.2" r="0.7" fill="rgb(0,0,79)"/>
<circle cx="382.6" cy="325.9" r="0.8" fill="rgb(0,0,90)"/>
<circle cx="378.7" cy="297.6" r="0.9" fill="rgb(0,0,79)"/>
<circle cx="371.1" cy="332.7" r="0.5" fill="rgb(0,0,81)"/>
<circle cx="395.5" cy="316.0" r="0.9" fill="rgb(0,0,120)"/>
<circle cx="395.1" cy="288.4" r="0.7" fill="rgb(0,0,112)"/>
<circle cx="393.3" cy="297.7" r="0.8" fill="rgb(0,0,105)"/>
<circle cx="363.9" cy="334.5" r="0.8" fill="rgb(0,0,72)"/>
<circle cx="373.5" cy="290.0" r="1.0" fill="rgb(0,0,47)"/>
<circle cx="363.1" cy="310.3" r="0.9" fill="rgb(0,0,116)"/>
<circle cx="390.5" cy="295.4" r="1.0" fill="rgb(0,0,95)"/>
<circle cx="374.3" cy="331.1" r="0.8" fill="rgb(0,0,65)"/>
<circle cx="404.2" cy="313.7" r="0.8" fill="rgb(0,0,116)"/>
<circle cx="389.6" cy="284.7" r="0.9" fill="rgb(0,0,77)"/>
<circle cx="393.0" cy="302.2" r="0.7" fill="rgb(0,0,57)"/>
<circle cx="407.2" cy="310.6" r="1.0" fill="rgb(0,0,56)"/>
<circle cx="399.2" cy="299.6" r="0.9" fill="rgb(0,0,83)"/>
<circle cx="397.9" cy="291.3" r="0.9" fill="rgb(0,0,70)"/>
<circle cx="401.4" cy="320.3" r="1.0" fill="rgb(0,0,71)"/>
<circle cx="410.4" cy="331.3" r="0.8" fill="rgb(0,0,98)"/>
<circle cx="362.8" cy="304.9" r="0.9" fill="rgb(0,0,99)"/>
<circle cx="408.3" cy="298.9" r="0.6" fill="rgb(0,0,107)"/>
<circle cx="410.3" cy="303.5" r="0.8" fill="rgb(0,0,76)"/>
<circle cx="393.1" cy="310.8" r="1.0" fill="rgb(0,0,74)"/>
<circle cx="412.4" cy="290.3" r="0.8" fill="rgb(0,0,60)"/>
<circle cx="396.6" cy="305.4" r="0.6" fill="rgb(0,0,108)"/>
<circle cx="384.5" cy="325.6" r="0.5" fill="rgb(0,0,77)"/>
<circle cx="380.5" cy="327.6" r="0.6" fill="rgb(0,0,56)"/>
<circle cx="394.0" cy="295.0" r="0.8" fill="rgb(0,0,96)"/>
<circle cx="365.3" cy="328.6" r="0.8" fill="rgb(0,0,113)"/>
<circle cx="405.0" cy="329.0" r="0.8" fill="rgb(0,0,82)"/>
<circle cx="396.8" cy="319.4" r="0.6" fill="rgb(0,0,106)"/>
<circle cx="367.7" cy="327.4" r="0.7" fill="rgb(0,0,66)"/>
<circle cx="393.2" cy="325.4" r="0.5" fill="rgb(0,0,93)"/>
<circle cx="385.7" cy="311.7" r="0.5" fill="rgb(0,0,56)"/>
<circle cx="378.7" cy="282.1" r="0.8" fill="rgb(0,0,106)"/>
<circle cx="377.8" cy="303.0" r="0.5" fill="rgb(0,0,109)"/>
<circle cx="397.7" cy="290.0" r="0.9" fill="rgb(0,0,109)"/>
<circle cx="371.5" cy="323.9" r="0.8" fill="rgb(0,0,86)"/>
<circle cx="393.1" cy="317.1" r="0.9" fill="rgb(0,0,101)"/>
<circle cx="413.5" cy="336.4" r="0.6" fill="rgb(0,0,94)"/>
<circle cx="413.3" cy="308.8" r="0.6" fill="rgb(0,0,112)"/>
<circle cx="411.5" cy="309.5" r="0.5" fill="rgb(0,0,61)"/>
<circle cx="366.3" cy="313.1" r="1.1" fill="rgb(0,0,78)"/>
<circle cx="410.5" cy="282.2" r="0.5" fill="rgb(0,0,60)"/>
<circle cx="397.8" cy="283.9" r="0.9" fill="rgb(0,0,104)"/>
<circle cx="368.5" cy="314.3" r="0.7" fill="rgb(0,0,53)"/>
<circle cx="365.6" cy="325.4" r="1.0" fill="rgb(0,0,82)"/>
<circle cx="386.6" cy="319.2" r="1.1" fill="rgb(0,0,112)"/>
<circle cx="360.6" cy="294.7" r="0.7" fill="rgb(0,0,53)"/>
<circle cx="394.9" cy="317.5" r="1.1" fill="rgb(0,0,67)"/>
<circle cx="392.2" cy="333.4" r="1.0" fill="rgb(0,0,86)"/>
<circle cx="410.3" cy="330.2" r="1.0" fill="rgb(0,0,56)"/>
<circle cx="387.5" cy="281.6" r="0.9" fill="rgb(0,0,108)"/>
<circle cx="374.7" cy="281.3" r="0.7" fill="rgb(0,0,51)"/>
<circle cx="377.4" cy="315.8" r="0.7" fill="rgb(0,0,102)"/>
<circle cx="406.8" cy="306.9" r="0.9" fill="rgb(0,0,50)"/>
<circle cx="414.0" cy="282.9" r="0.5" fill="rgb(0,0,107)"/>
<circle cx="392.0" cy="300.6" r="1.0" fill="rgb(0,0,51)"/>
<circle cx="396.0" cy="325.0" r="1.0" fill="rgb(0,0,84)"/>
<circle cx="360.5" cy="327.2" r="0.7" fill="rgb(0,0,101)"/>
<circle cx="407.8" cy="316.9" r="0.8" fill="rgb(0,0,110)"/>
<circle cx="371.8" cy="322.0" r="0.6" fill="rgb(0,0,94)"/>
<circle cx="410.5" cy="283.5" r="0.7" fill="rgb(0,0,74)"/>
<circle cx="364.6" cy="291.7" r="0.7" fill="rgb(0,0,83)"/>
<circle cx="391.8" cy="328.1" r="0.8" fill="rgb(0,0,93)"/>
<circle cx="402.4" cy="324.4" r="1.0" fill="rgb(0,0,78)"/>
<circle cx="357.2" cy="295.4" r="0.7" fill="rgb(0,0,101)"/>
<circle cx="369.1" cy="286.4" r="0.5" fill="rgb(0,0,51)"/>
<circle cx="375.6" cy="317.3" r="1.0" fill="rgb(0,0,64)"/>
<circle cx="370.9" cy="321.9" r="0.9" fill="rgb(0,0,65)"/>
<circle cx="386.9" cy="330.7" r="0.7" fill="rgb(0,0,82)"/>
<circle cx="375.6" cy="315.6" r="0.6" fill="rgb(0,0,118)"/>
<circle cx="386.9" cy="323.5" r="0.8" fill="rgb(0,0,55)"/>
<circle cx="358.8" cy="282.4" r="0.7" fill="rgb(0,0,66)"/>
<circle cx="397.3" cy="281.6" r="0.8" fill="rgb(0,0,67)"/>
<circle cx="361.2" cy="325.3" r="0.8" fill="rgb(0,0,62)"/>
<circle cx="400.7" cy="297.7" r="0.8" fill="rgb(0,0,76)"/>
<circle cx="390.9" cy="327.2" r="0.8" fill="rgb(0,0,107)"/>
<circle cx="402.8" cy="302.0" r="0.6" fill="rgb(0,0,64)"/>
<circle cx="357.9" cy="297.6" r="0.9" fill="rgb(0,0,47)"/>
<circle cx="368.7" cy="336.8" r="0.6" fill="rgb(0,0,101)"/>
<circle cx="374.7" cy="327.4" r="1.1" fill="rgb(0,0,108)"/>
<circle cx="401.3" cy="304.7" r="0.5" fill="rgb(0,0,106)"/>
<circle cx="356.7" cy="316.4" r="0.8" fill="rgb(0,0,102)"/>
<circle cx="378.0" cy="333.3" r="0.6" fill="rgb(0,0,98)"/>
<circle cx="413.9" cy="303.3" r="0.6" fill="rgb(0,0,94)"/>
<circle cx="392.7" cy="284.2" r="0.5" fill="rgb(0,0,81)"/>
<circle cx="378.9" cy="312.1" r="0.5" fill="rgb(0,0,47)"/>
<circle cx="368.1" cy="303.9" r="0.8" fill="rgb(0,0,115)"/>
<circle cx="391.0" cy="325.3" r="1.1" fill="rgb(0,0,73)"/>
<circle cx="377.5" cy="290.8" r="0.7" fill="rgb(0,0,100)"/>
<circle cx="392.9" cy="310.9" r="0.8" fill="rgb(0,0,103)"/>
<circle cx="394.4" cy="336.1" r="0.7" fill="rgb(0,0,57)"/>
<circle cx="363.5" cy="283.0" r="0.9" fill="rgb(0,0,100)"/>
<circle cx="367.9" cy="333.9" r="1.1" fill="rgb(0,0,74)"/>
<circle cx="393.9" cy="318.7" r="0.6" fill="rgb(0,0,85)"/>
<circle cx="370.2" cy="301.3" r="0.9" fill="rgb(0,0,86)"/>
<circle cx="411.0" cy="321.3" r="0.5" fill="rgb(0,0,104)"/>
<circle cx="380.0" cy="336.9" r="0.8" fill="rgb(0,0,52)"/>
<circle cx="380.4" cy="323.7" r="0.8" fill="rgb(0,0,74)"/>
<circle cx="381.6" cy="327.4" r="1.1" fill="rgb(0,0,80)"/>
<circle cx="407.3" cy="317.0" r="0.6" fill="rgb(0,0,115)"/>
<circle cx="407.4" cy="292.2" r="0.6" fill="rgb(0,0,79)"/>
<circle cx="403.7" cy="302.4" r="0.6" fill="rgb(0,0,78)"/>
<circle cx="384.4" cy="326.7" r="0.8" fill="rgb(0,0,68)"/>
<circle cx="365.0" cy="323.3" r="1.0" fill="rgb(0,0,108)"/>
<circle cx="401.4" cy="318.6" r="0.6" fill="rgb(0,0,87)"/>
<circle cx="413.8" cy="290.8" r="0.6" fill="rgb(0,0,59)"/>
<circle cx="377.6" cy="317.8" r="1.0" fill="rgb(0,0,45)"/>
<circle cx="400.7" cy="294.3" r="0.8" fill="rgb(0,0,82)"/>
<circle cx="366.6" cy="302.8" r="1.7" fill="rgb(31,51,255)"/>
<circle cx="380.0" cy="290.0" r="1.0" fill="rgb(21,34,170)"/>
<circle cx="392.0" cy="286.0" r="1.0" fill="rgb(18,30,150)"/>
<circle cx="410.0" cy="300.0" r="1.0" fill="rgb(20,32,160)"/>
<circle cx="392.0" cy="330.0" r="1.5" fill="rgb(21,34,170)"/>
<circle cx="406.0" cy="333.0" r="1.4" fill="rgb(21,34,170)"/>
<circle cx="362.0" cy="318.0" r="1.1" fill="rgb(20,32,160)"/>
<circle cx="372.0" cy="305.0" r="1.0" fill="rgb(18,30,150)"/>
<circle cx="383.0" cy="300.0" r="1.0" fill="rgb(18,30,150)"/>
</g><g filter="url(#bl3)" style="mix-blend-mode:screen">
<ellipse cx="366" cy="305.5" rx="5.5" ry="1.8" fill="#0e4a1c" transform="rotate(-30 366 305.5)"/>
<ellipse cx="363.5" cy="317" rx="5" ry="1.6" fill="#0e4a1c"/>
<ellipse cx="391" cy="312.3" rx="6" ry="3" fill="#0e4a1c" transform="rotate(-20 391 312.3)"/>
<ellipse cx="369" cy="297" rx="4.5" ry="2" fill="#0b3a18" transform="rotate(35 369 297)"/>
<ellipse cx="384" cy="290" rx="5" ry="2.2" fill="#0a3416" transform="rotate(-35 384 290)"/>
<ellipse cx="405" cy="299" rx="4" ry="3" fill="#0a3416"/>
<ellipse cx="378.5" cy="306" rx="3" ry="5" fill="#0a3416" transform="rotate(30 378.5 306)"/>
</g><g filter="url(#bl4)" opacity="0.55" style="mix-blend-mode:screen">
<path d="M361,281 L377.5,281 L376.5,284 L373,287.5 L368,288.8 L364,287 L361,285 Z" fill="#38ec38"/>
<path d="M357,281 L361,281 L362,284.5 L359.5,287 L357,286 Z" fill="#1f8f1f"/>
<ellipse cx="372.8" cy="293.4" rx="2.6" ry="2.3" fill="#4cff4c"/>
<path d="M404.7,290.6 L409,288.5 L414.3,287.2 L414.3,294 L409.5,292.8 Z" fill="#3ae83a"/>
<path d="M398,297.5 L397.6,300.5 L396.2,304.5 L394.5,308.3 L392,309.6 L390.2,308.2 L390.8,305.5 L394,302 Z" fill="#45f545"/>
<path d="M402.3,306.8 L405,306 L408,304.3 L412.3,305 L409,308 L407,311 L405,314 L403.5,311.5 L404,309 Z" fill="#36e036"/>
<path d="M402,316 L404.5,318 L407,315.2 L409.5,316.5 L407,320 L406,324.8 L403.5,324 L403,320 Z" fill="#40f040"/>
<ellipse cx="400.4" cy="328.7" rx="4.6" ry="1.9" fill="#3ae83a" transform="rotate(-40 400.4 328.7)"/>
<path d="M366.6,320 L372,320.5 L376,316.5 L377.6,313.8 L379.5,318 L383,313.3 L385.8,313.8 L385.2,320 L386,327 L381,329 L377,331.5 L374.3,331 L373.5,326.5 L369.5,322.5 Z" fill="#3ae83a"/>
<ellipse cx="359.5" cy="335" rx="2.6" ry="1.8" fill="#33d033"/>
<ellipse cx="413.5" cy="333" rx="1" ry="3" fill="#30c030"/>
</g><g filter="url(#gtex)" style="mix-blend-mode:screen">
<path d="M361,281 L377.5,281 L376.5,284 L373,287.5 L368,288.8 L364,287 L361,285 Z" fill="#38ec38"/>
<path d="M357,281 L361,281 L362,284.5 L359.5,287 L357,286 Z" fill="#1f8f1f"/>
<ellipse cx="372.8" cy="293.4" rx="2.6" ry="2.3" fill="#4cff4c"/>
<path d="M404.7,290.6 L409,288.5 L414.3,287.2 L414.3,294 L409.5,292.8 Z" fill="#3ae83a"/>
<path d="M398,297.5 L397.6,300.5 L396.2,304.5 L394.5,308.3 L392,309.6 L390.2,308.2 L390.8,305.5 L394,302 Z" fill="#45f545"/>
<path d="M402.3,306.8 L405,306 L408,304.3 L412.3,305 L409,308 L407,311 L405,314 L403.5,311.5 L404,309 Z" fill="#36e036"/>
<path d="M402,316 L404.5,318 L407,315.2 L409.5,316.5 L407,320 L406,324.8 L403.5,324 L403,320 Z" fill="#40f040"/>
<ellipse cx="400.4" cy="328.7" rx="4.6" ry="1.9" fill="#3ae83a" transform="rotate(-40 400.4 328.7)"/>
<path d="M366.6,320 L372,320.5 L376,316.5 L377.6,313.8 L379.5,318 L383,313.3 L385.8,313.8 L385.2,320 L386,327 L381,329 L377,331.5 L374.3,331 L373.5,326.5 L369.5,322.5 Z" fill="#3ae83a"/>
<ellipse cx="359.5" cy="335" rx="2.6" ry="1.8" fill="#33d033"/>
<ellipse cx="413.5" cy="333" rx="1" ry="3" fill="#30c030"/>
</g></g>
<clipPath id="clip33"><rect x="356.9" y="363.3" width="56.3" height="56.3"/></clipPath>
<g clip-path="url(#clip33)" style="isolation:isolate">
<rect x="356.9" y="363.3" width="56.3" height="56.3" fill="#000"/>
<g filter="url(#bl3)" style="mix-blend-mode:screen">
<circle cx="389.0" cy="398.9" r="2.9" fill="rgb(0,0,52)"/>
<circle cx="383.9" cy="412.9" r="2.4" fill="rgb(0,0,68)"/>
<circle cx="367.4" cy="400.0" r="2.5" fill="rgb(0,0,67)"/>
<circle cx="375.0" cy="402.0" r="2.3" fill="rgb(0,0,53)"/>
<circle cx="410.0" cy="399.1" r="2.0" fill="rgb(0,0,54)"/>
<circle cx="386.1" cy="413.9" r="2.8" fill="rgb(0,0,78)"/>
<circle cx="380.9" cy="411.0" r="3.1" fill="rgb(0,0,70)"/>
<circle cx="400.0" cy="377.1" r="3.0" fill="rgb(0,0,55)"/>
<circle cx="412.1" cy="379.3" r="1.9" fill="rgb(0,0,39)"/>
<circle cx="399.1" cy="370.2" r="2.0" fill="rgb(0,0,50)"/>
<circle cx="385.8" cy="381.3" r="2.1" fill="rgb(0,0,77)"/>
<circle cx="374.0" cy="385.5" r="1.8" fill="rgb(0,0,42)"/>
<circle cx="406.4" cy="383.8" r="2.6" fill="rgb(0,0,78)"/>
<circle cx="388.4" cy="370.3" r="1.8" fill="rgb(0,0,42)"/>
<circle cx="402.4" cy="363.5" r="2.2" fill="rgb(0,0,57)"/>
<circle cx="368.3" cy="374.2" r="2.6" fill="rgb(0,0,64)"/>
<circle cx="390.5" cy="407.8" r="2.5" fill="rgb(0,0,64)"/>
<circle cx="401.1" cy="380.6" r="1.6" fill="rgb(0,0,65)"/>
<circle cx="378.3" cy="406.0" r="2.1" fill="rgb(0,0,77)"/>
<circle cx="406.0" cy="364.1" r="2.4" fill="rgb(0,0,63)"/>
<circle cx="397.6" cy="412.4" r="2.9" fill="rgb(0,0,45)"/>
<circle cx="408.1" cy="404.4" r="2.3" fill="rgb(0,0,79)"/>
<circle cx="361.8" cy="397.2" r="2.7" fill="rgb(0,0,64)"/>
<circle cx="372.6" cy="416.6" r="2.2" fill="rgb(0,0,65)"/>
<circle cx="406.2" cy="417.4" r="2.3" fill="rgb(0,0,36)"/>
<circle cx="399.6" cy="381.2" r="3.1" fill="rgb(0,0,45)"/>
<circle cx="362.8" cy="373.7" r="2.7" fill="rgb(0,0,74)"/>
<circle cx="410.5" cy="414.4" r="1.8" fill="rgb(0,0,57)"/>
<circle cx="403.7" cy="387.7" r="2.9" fill="rgb(0,0,76)"/>
<circle cx="405.8" cy="405.6" r="2.5" fill="rgb(0,0,67)"/>
<circle cx="358.9" cy="405.3" r="3.0" fill="rgb(0,0,35)"/>
<circle cx="369.7" cy="368.5" r="2.0" fill="rgb(0,0,72)"/>
<circle cx="361.3" cy="369.9" r="3.0" fill="rgb(0,0,47)"/>
<circle cx="410.4" cy="367.3" r="3.1" fill="rgb(0,0,35)"/>
<circle cx="389.2" cy="419.4" r="2.7" fill="rgb(0,0,35)"/>
<circle cx="405.2" cy="372.1" r="1.5" fill="rgb(0,0,40)"/>
<circle cx="402.7" cy="371.1" r="1.6" fill="rgb(0,0,36)"/>
<circle cx="390.0" cy="375.1" r="2.4" fill="rgb(0,0,78)"/>
<circle cx="363.2" cy="383.9" r="2.9" fill="rgb(0,0,66)"/>
<circle cx="405.7" cy="417.8" r="2.8" fill="rgb(0,0,36)"/>
<circle cx="402.2" cy="391.3" r="2.0" fill="rgb(0,0,56)"/>
<circle cx="375.3" cy="370.5" r="2.1" fill="rgb(0,0,56)"/>
<circle cx="378.7" cy="405.6" r="2.0" fill="rgb(0,0,40)"/>
<circle cx="386.6" cy="410.5" r="1.9" fill="rgb(0,0,46)"/>
<circle cx="380.2" cy="370.6" r="2.9" fill="rgb(0,0,69)"/>
<circle cx="383.0" cy="381.5" r="2.8" fill="rgb(0,0,35)"/>
<circle cx="358.2" cy="367.7" r="2.1" fill="rgb(0,0,58)"/>
<circle cx="398.3" cy="376.7" r="2.5" fill="rgb(0,0,35)"/>
<circle cx="384.8" cy="397.0" r="2.5" fill="rgb(0,0,52)"/>
<circle cx="369.5" cy="365.7" r="1.8" fill="rgb(0,0,36)"/>
</g><g filter="url(#bl1)" style="mix-blend-mode:screen">
<circle cx="376.4" cy="369.9" r="1.1" fill="rgb(0,0,94)"/>
<circle cx="375.6" cy="408.9" r="0.5" fill="rgb(0,0,75)"/>
<circle cx="394.8" cy="370.6" r="0.6" fill="rgb(0,0,94)"/>
<circle cx="391.6" cy="405.6" r="1.0" fill="rgb(0,0,108)"/>
<circle cx="367.5" cy="374.5" r="1.0" fill="rgb(0,0,100)"/>
<circle cx="405.2" cy="403.2" r="0.7" fill="rgb(0,0,94)"/>
<circle cx="408.0" cy="398.6" r="0.6" fill="rgb(0,0,93)"/>
<circle cx="402.0" cy="388.3" r="0.7" fill="rgb(0,0,57)"/>
<circle cx="377.7" cy="388.1" r="0.7" fill="rgb(0,0,49)"/>
<circle cx="362.7" cy="373.8" r="0.7" fill="rgb(0,0,67)"/>
<circle cx="403.9" cy="370.7" r="0.6" fill="rgb(0,0,62)"/>
<circle cx="410.2" cy="386.6" r="0.6" fill="rgb(0,0,117)"/>
<circle cx="385.1" cy="408.0" r="0.7" fill="rgb(0,0,57)"/>
<circle cx="407.5" cy="393.2" r="0.7" fill="rgb(0,0,120)"/>
<circle cx="362.3" cy="417.7" r="0.8" fill="rgb(0,0,72)"/>
<circle cx="385.4" cy="380.8" r="0.8" fill="rgb(0,0,114)"/>
<circle cx="381.3" cy="396.9" r="1.1" fill="rgb(0,0,75)"/>
<circle cx="380.2" cy="364.1" r="0.6" fill="rgb(0,0,106)"/>
<circle cx="374.0" cy="409.9" r="1.1" fill="rgb(0,0,83)"/>
<circle cx="402.2" cy="374.3" r="0.8" fill="rgb(0,0,76)"/>
<circle cx="371.1" cy="387.7" r="0.8" fill="rgb(0,0,91)"/>
<circle cx="376.6" cy="370.0" r="0.5" fill="rgb(0,0,85)"/>
<circle cx="370.5" cy="404.2" r="0.9" fill="rgb(0,0,120)"/>
<circle cx="375.4" cy="399.9" r="0.7" fill="rgb(0,0,82)"/>
<circle cx="399.6" cy="373.6" r="0.8" fill="rgb(0,0,71)"/>
<circle cx="358.7" cy="403.6" r="0.5" fill="rgb(0,0,98)"/>
<circle cx="386.1" cy="381.3" r="0.6" fill="rgb(0,0,110)"/>
<circle cx="394.3" cy="408.4" r="0.7" fill="rgb(0,0,52)"/>
<circle cx="390.4" cy="393.2" r="0.8" fill="rgb(0,0,56)"/>
<circle cx="371.5" cy="418.9" r="0.5" fill="rgb(0,0,100)"/>
<circle cx="391.2" cy="403.9" r="0.7" fill="rgb(0,0,63)"/>
<circle cx="397.2" cy="370.7" r="0.6" fill="rgb(0,0,92)"/>
<circle cx="376.7" cy="405.5" r="0.7" fill="rgb(0,0,120)"/>
<circle cx="357.0" cy="372.2" r="1.1" fill="rgb(0,0,98)"/>
<circle cx="387.0" cy="396.2" r="0.7" fill="rgb(0,0,64)"/>
<circle cx="409.2" cy="400.3" r="0.7" fill="rgb(0,0,66)"/>
<circle cx="411.3" cy="412.2" r="0.9" fill="rgb(0,0,100)"/>
<circle cx="386.9" cy="374.6" r="0.9" fill="rgb(0,0,60)"/>
<circle cx="357.6" cy="398.9" r="0.6" fill="rgb(0,0,88)"/>
<circle cx="387.8" cy="378.9" r="0.9" fill="rgb(0,0,105)"/>
<circle cx="399.4" cy="382.8" r="1.1" fill="rgb(0,0,67)"/>
<circle cx="397.2" cy="411.5" r="0.6" fill="rgb(0,0,53)"/>
<circle cx="398.7" cy="414.7" r="1.0" fill="rgb(0,0,115)"/>
<circle cx="394.5" cy="393.7" r="0.6" fill="rgb(0,0,105)"/>
<circle cx="391.3" cy="403.5" r="0.9" fill="rgb(0,0,120)"/>
<circle cx="406.2" cy="405.0" r="0.7" fill="rgb(0,0,114)"/>
<circle cx="377.5" cy="410.0" r="1.0" fill="rgb(0,0,69)"/>
<circle cx="408.1" cy="402.3" r="0.8" fill="rgb(0,0,81)"/>
<circle cx="411.9" cy="381.3" r="1.0" fill="rgb(0,0,71)"/>
<circle cx="386.0" cy="399.8" r="0.6" fill="rgb(0,0,117)"/>
<circle cx="364.7" cy="369.6" r="0.8" fill="rgb(0,0,76)"/>
<circle cx="411.6" cy="370.8" r="0.6" fill="rgb(0,0,73)"/>
<circle cx="387.7" cy="406.0" r="0.8" fill="rgb(0,0,120)"/>
<circle cx="377.1" cy="384.6" r="0.8" fill="rgb(0,0,45)"/>
<circle cx="360.5" cy="409.3" r="0.6" fill="rgb(0,0,80)"/>
<circle cx="368.0" cy="377.0" r="1.1" fill="rgb(0,0,91)"/>
<circle cx="380.0" cy="407.4" r="0.9" fill="rgb(0,0,116)"/>
<circle cx="394.1" cy="403.5" r="0.5" fill="rgb(0,0,115)"/>
<circle cx="379.0" cy="377.7" r="0.7" fill="rgb(0,0,89)"/>
<circle cx="369.4" cy="369.7" r="0.7" fill="rgb(0,0,66)"/>
<circle cx="362.6" cy="402.8" r="0.7" fill="rgb(0,0,78)"/>
<circle cx="358.4" cy="393.2" r="0.6" fill="rgb(0,0,106)"/>
<circle cx="381.0" cy="406.2" r="0.8" fill="rgb(0,0,80)"/>
<circle cx="401.0" cy="391.0" r="0.5" fill="rgb(0,0,96)"/>
<circle cx="411.9" cy="396.8" r="1.0" fill="rgb(0,0,112)"/>
<circle cx="412.5" cy="384.7" r="0.9" fill="rgb(0,0,51)"/>
<circle cx="408.9" cy="412.3" r="1.0" fill="rgb(0,0,88)"/>
<circle cx="376.0" cy="381.5" r="0.7" fill="rgb(0,0,84)"/>
<circle cx="374.2" cy="384.2" r="0.6" fill="rgb(0,0,68)"/>
<circle cx="399.3" cy="414.3" r="0.9" fill="rgb(0,0,95)"/>
<circle cx="401.8" cy="416.6" r="0.6" fill="rgb(0,0,111)"/>
<circle cx="361.6" cy="375.7" r="0.6" fill="rgb(0,0,111)"/>
<circle cx="388.4" cy="409.6" r="0.9" fill="rgb(0,0,82)"/>
<circle cx="406.1" cy="396.1" r="0.6" fill="rgb(0,0,65)"/>
<circle cx="411.7" cy="364.4" r="1.1" fill="rgb(0,0,95)"/>
<circle cx="410.5" cy="408.8" r="0.7" fill="rgb(0,0,68)"/>
<circle cx="391.8" cy="413.4" r="1.0" fill="rgb(0,0,92)"/>
<circle cx="357.2" cy="363.7" r="0.8" fill="rgb(0,0,118)"/>
<circle cx="406.4" cy="410.4" r="0.5" fill="rgb(0,0,71)"/>
<circle cx="394.1" cy="373.2" r="0.9" fill="rgb(0,0,46)"/>
<circle cx="411.0" cy="364.3" r="0.8" fill="rgb(0,0,87)"/>
<circle cx="396.4" cy="413.3" r="0.7" fill="rgb(0,0,116)"/>
<circle cx="376.8" cy="403.5" r="0.8" fill="rgb(0,0,65)"/>
<circle cx="360.0" cy="391.4" r="0.5" fill="rgb(0,0,61)"/>
<circle cx="401.6" cy="383.0" r="0.5" fill="rgb(0,0,55)"/>
<circle cx="358.5" cy="407.5" r="0.9" fill="rgb(0,0,65)"/>
<circle cx="361.4" cy="390.3" r="1.0" fill="rgb(0,0,87)"/>
<circle cx="366.7" cy="381.9" r="0.8" fill="rgb(0,0,103)"/>
<circle cx="390.6" cy="401.7" r="0.5" fill="rgb(0,0,67)"/>
<circle cx="391.7" cy="371.0" r="1.0" fill="rgb(0,0,112)"/>
<circle cx="395.8" cy="385.3" r="0.9" fill="rgb(0,0,120)"/>
<circle cx="366.4" cy="366.9" r="1.0" fill="rgb(0,0,104)"/>
<circle cx="365.9" cy="389.5" r="0.8" fill="rgb(0,0,92)"/>
<circle cx="388.5" cy="412.4" r="1.1" fill="rgb(0,0,54)"/>
<circle cx="398.3" cy="370.7" r="0.9" fill="rgb(0,0,69)"/>
<circle cx="407.7" cy="384.2" r="1.1" fill="rgb(0,0,94)"/>
<circle cx="368.0" cy="372.6" r="0.8" fill="rgb(0,0,87)"/>
<circle cx="358.3" cy="413.8" r="0.7" fill="rgb(0,0,46)"/>
<circle cx="357.3" cy="401.3" r="0.6" fill="rgb(0,0,64)"/>
<circle cx="404.1" cy="384.5" r="1.0" fill="rgb(0,0,80)"/>
<circle cx="401.0" cy="374.3" r="0.5" fill="rgb(0,0,92)"/>
<circle cx="409.6" cy="369.7" r="0.5" fill="rgb(0,0,96)"/>
<circle cx="375.9" cy="369.2" r="0.6" fill="rgb(0,0,86)"/>
<circle cx="363.1" cy="407.1" r="0.7" fill="rgb(0,0,66)"/>
<circle cx="357.6" cy="384.4" r="0.9" fill="rgb(0,0,52)"/>
<circle cx="412.7" cy="414.9" r="0.6" fill="rgb(0,0,99)"/>
<circle cx="400.5" cy="384.7" r="0.5" fill="rgb(0,0,64)"/>
<circle cx="392.2" cy="406.1" r="1.0" fill="rgb(0,0,61)"/>
<circle cx="359.3" cy="416.3" r="1.1" fill="rgb(0,0,90)"/>
<circle cx="406.0" cy="378.5" r="0.9" fill="rgb(0,0,75)"/>
<circle cx="375.8" cy="397.2" r="1.0" fill="rgb(0,0,97)"/>
<circle cx="359.6" cy="383.7" r="0.8" fill="rgb(0,0,69)"/>
<circle cx="364.8" cy="396.7" r="1.0" fill="rgb(0,0,96)"/>
<circle cx="397.4" cy="377.8" r="0.7" fill="rgb(0,0,94)"/>
<circle cx="361.4" cy="415.4" r="0.5" fill="rgb(0,0,75)"/>
<circle cx="369.4" cy="378.1" r="0.8" fill="rgb(0,0,80)"/>
<circle cx="363.7" cy="414.2" r="1.1" fill="rgb(0,0,106)"/>
<circle cx="363.7" cy="418.1" r="0.6" fill="rgb(0,0,75)"/>
<circle cx="395.8" cy="401.1" r="0.5" fill="rgb(0,0,76)"/>
<circle cx="396.5" cy="380.8" r="0.7" fill="rgb(0,0,119)"/>
<circle cx="360.4" cy="370.9" r="1.9" fill="rgb(18,30,150)"/>
<circle cx="365.3" cy="370.0" r="1.9" fill="rgb(18,30,150)"/>
<circle cx="370.1" cy="368.4" r="1.9" fill="rgb(18,30,150)"/>
<circle cx="382.1" cy="366.8" r="1.9" fill="rgb(18,30,150)"/>
<circle cx="381.3" cy="373.3" r="1.9" fill="rgb(18,30,150)"/>
<circle cx="378.1" cy="374.1" r="1.9" fill="rgb(18,30,150)"/>
<circle cx="374.9" cy="378.1" r="1.9" fill="rgb(18,30,150)"/>
<circle cx="376.5" cy="382.9" r="1.9" fill="rgb(18,30,150)"/>
<circle cx="381.3" cy="382.1" r="1.9" fill="rgb(18,30,150)"/>
<circle cx="380.5" cy="386.1" r="1.9" fill="rgb(18,30,150)"/>
<circle cx="384.5" cy="388.5" r="1.9" fill="rgb(18,30,150)"/>
<circle cx="366.1" cy="386.1" r="1.9" fill="rgb(18,30,150)"/>
<circle cx="370.1" cy="390.9" r="1.9" fill="rgb(18,30,150)"/>
<circle cx="372.5" cy="392.5" r="1.9" fill="rgb(18,30,150)"/>
<circle cx="387.0" cy="390.1" r="1.9" fill="rgb(18,30,150)"/>
<circle cx="384.5" cy="394.2" r="1.9" fill="rgb(18,30,150)"/>
<circle cx="378.1" cy="396.6" r="1.9" fill="rgb(18,30,150)"/>
<circle cx="382.1" cy="397.4" r="1.9" fill="rgb(18,30,150)"/>
<circle cx="374.1" cy="399.8" r="1.9" fill="rgb(18,30,150)"/>
<circle cx="374.1" cy="404.6" r="1.9" fill="rgb(18,30,150)"/>
<circle cx="379.7" cy="399.8" r="1.9" fill="rgb(18,30,150)"/>
<circle cx="384.5" cy="401.4" r="1.9" fill="rgb(18,30,150)"/>
<circle cx="388.6" cy="398.2" r="1.9" fill="rgb(18,30,150)"/>
<circle cx="393.4" cy="392.5" r="1.9" fill="rgb(18,30,150)"/>
<circle cx="398.2" cy="386.1" r="1.9" fill="rgb(18,30,150)"/>
<circle cx="396.6" cy="390.1" r="1.9" fill="rgb(18,30,150)"/>
<circle cx="403.0" cy="374.1" r="1.9" fill="rgb(18,30,150)"/>
<circle cx="401.4" cy="367.6" r="1.9" fill="rgb(18,30,150)"/>
<circle cx="407.0" cy="403.8" r="1.9" fill="rgb(18,30,150)"/>
<circle cx="390.2" cy="406.2" r="1.9" fill="rgb(18,30,150)"/>
<circle cx="392.6" cy="411.0" r="1.9" fill="rgb(18,30,150)"/>
<circle cx="378.9" cy="409.4" r="1.9" fill="rgb(18,30,150)"/>
<circle cx="383.7" cy="414.2" r="1.9" fill="rgb(18,30,150)"/>
<circle cx="387.0" cy="417.4" r="1.9" fill="rgb(18,30,150)"/>
<circle cx="361.2" cy="412.6" r="1.9" fill="rgb(18,30,150)"/>
<circle cx="365.3" cy="416.6" r="1.9" fill="rgb(18,30,150)"/>
<circle cx="387.0" cy="377.3" r="1.9" fill="rgb(18,30,150)"/>
<circle cx="390.2" cy="381.3" r="1.9" fill="rgb(18,30,150)"/>
<circle cx="387.8" cy="383.7" r="1.9" fill="rgb(18,30,150)"/>
<circle cx="366.1" cy="386.1" r="1.9" fill="rgb(27,44,220)"/>
</g><g filter="url(#bl3)" style="mix-blend-mode:screen">
<ellipse cx="380" cy="372" rx="4" ry="3" fill="#0c4a18"/>
<ellipse cx="392" cy="415" rx="3" ry="4" fill="#0a3a16"/>
</g><g filter="url(#bl4)" opacity="0.55" style="mix-blend-mode:screen">
<ellipse cx="371.7" cy="366" rx="2.4" ry="2.4" fill="#30d030"/>
<path d="M372.5,377 L376,376.5 L378.1,379 L377.5,383.7 L374,383 L372.5,380 Z" fill="#2ccc2c"/>
<ellipse cx="380.5" cy="378.1" rx="1.3" ry="1.3" fill="#55ff55"/>
<ellipse cx="409.5" cy="378.8" rx="4" ry="2.8" fill="#45f045"/>
<ellipse cx="390" cy="364" rx="1.3" ry="1" fill="#3ad03a"/>
<path d="M357.2,408.5 L362,407.8 L367.5,411.5 L366.5,419.9 L357.2,419.9 Z" fill="#1a7c1a"/>
<ellipse cx="374.5" cy="402.5" rx="3.5" ry="3.3" fill="#24a830"/>
<ellipse cx="376.5" cy="403.8" rx="1.5" ry="1.5" fill="#50ff50"/>
<ellipse cx="413.5" cy="384" rx="1" ry="2.5" fill="#30c030"/>
</g><g filter="url(#gtex)" style="mix-blend-mode:screen">
<ellipse cx="371.7" cy="366" rx="2.4" ry="2.4" fill="#30d030"/>
<path d="M372.5,377 L376,376.5 L378.1,379 L377.5,383.7 L374,383 L372.5,380 Z" fill="#2ccc2c"/>
<ellipse cx="380.5" cy="378.1" rx="1.3" ry="1.3" fill="#55ff55"/>
<ellipse cx="409.5" cy="378.8" rx="4" ry="2.8" fill="#45f045"/>
<ellipse cx="390" cy="364" rx="1.3" ry="1" fill="#3ad03a"/>
<path d="M357.2,408.5 L362,407.8 L367.5,411.5 L366.5,419.9 L357.2,419.9 Z" fill="#1a7c1a"/>
<ellipse cx="374.5" cy="402.5" rx="3.5" ry="3.3" fill="#24a830"/>
<ellipse cx="376.5" cy="403.8" rx="1.5" ry="1.5" fill="#50ff50"/>
<ellipse cx="413.5" cy="384" rx="1" ry="2.5" fill="#30c030"/>
</g></g>
<path d="M372.30,381.80 L368.37,381.91 L369.85,378.72 Z" fill="#fff"/>
<path d="M371.10,400.40 L367.17,400.51 L368.65,397.32 Z" fill="#fff"/>
<path d="M363.80,408.80 L362.04,405.28 L365.56,405.28 Z" fill="#fff"/>
<line x1="402.20" y1="417.30" x2="411.60" y2="417.30" stroke="#fff" stroke-width="1.1"/>
</svg>
</body></html>
